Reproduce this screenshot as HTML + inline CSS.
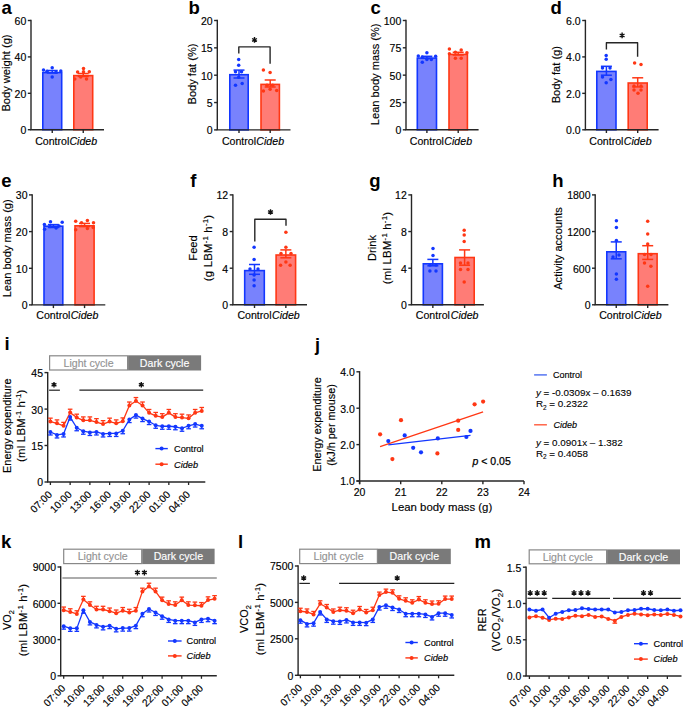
<!DOCTYPE html><html><head><meta charset="utf-8"><style>html,body{margin:0;padding:0;background:#fff;}svg{display:block;}</style></head><body><svg width="685" height="708" viewBox="0 0 685 708" font-family='"Liberation Sans", sans-serif'>
<rect width="685" height="708" fill="#fff"/>
<text x="1.5" y="13.5" font-size="18.5" text-anchor="start" font-weight="bold" font-style="normal" fill="#000" stroke="#000" stroke-width="0" >a</text>
<rect x="42.8" y="72.6" width="18.9" height="57.099999999999994" fill="#7882fd" stroke="#1337ff" stroke-width="1.6"/>
<line x1="52.25" y1="70.5" x2="52.25" y2="73" stroke="#1337ff" stroke-width="1.5"/>
<line x1="46.75" y1="70.5" x2="57.75" y2="70.5" stroke="#1337ff" stroke-width="1.5"/>
<line x1="46.75" y1="73" x2="57.75" y2="73" stroke="#1337ff" stroke-width="1.5"/>
<circle cx="43.5" cy="70" r="1.75" fill="#1337ff"/>
<circle cx="52.2" cy="67.8" r="1.75" fill="#1337ff"/>
<circle cx="52.2" cy="77" r="1.75" fill="#1337ff"/>
<circle cx="60.8" cy="71" r="1.75" fill="#1337ff"/>
<circle cx="56" cy="72.3" r="1.75" fill="#1337ff"/>
<circle cx="47" cy="71.3" r="1.75" fill="#1337ff"/>
<rect x="73.8" y="75.6" width="18.9" height="54.099999999999994" fill="#ff7c76" stroke="#ff3714" stroke-width="1.6"/>
<line x1="83.25" y1="73.5" x2="83.25" y2="76.5" stroke="#ff3714" stroke-width="1.5"/>
<line x1="77.75" y1="73.5" x2="88.75" y2="73.5" stroke="#ff3714" stroke-width="1.5"/>
<line x1="77.75" y1="76.5" x2="88.75" y2="76.5" stroke="#ff3714" stroke-width="1.5"/>
<circle cx="83.5" cy="68.4" r="1.75" fill="#ff3714"/>
<circle cx="77.6" cy="72.1" r="1.75" fill="#ff3714"/>
<circle cx="89.3" cy="71.8" r="1.75" fill="#ff3714"/>
<circle cx="83.5" cy="71.8" r="1.75" fill="#ff3714"/>
<circle cx="74.8" cy="79" r="1.75" fill="#ff3714"/>
<circle cx="80.7" cy="77" r="1.75" fill="#ff3714"/>
<circle cx="86.5" cy="79" r="1.75" fill="#ff3714"/>
<line x1="31" y1="19.8" x2="31" y2="129.7" stroke="#262626" stroke-width="1.4"/>
<line x1="27.8" y1="20.5" x2="31" y2="20.5" stroke="#262626" stroke-width="1.4"/>
<text x="26.3" y="24.9" font-size="10.5" text-anchor="end" font-weight="normal" font-style="normal" fill="#000" stroke="#000" stroke-width="0.15" >60</text>
<line x1="27.8" y1="56.9" x2="31" y2="56.9" stroke="#262626" stroke-width="1.4"/>
<text x="26.3" y="61.3" font-size="10.5" text-anchor="end" font-weight="normal" font-style="normal" fill="#000" stroke="#000" stroke-width="0.15" >40</text>
<line x1="27.8" y1="93.3" x2="31" y2="93.3" stroke="#262626" stroke-width="1.4"/>
<text x="26.3" y="97.7" font-size="10.5" text-anchor="end" font-weight="normal" font-style="normal" fill="#000" stroke="#000" stroke-width="0.15" >20</text>
<line x1="27.8" y1="129.7" x2="31" y2="129.7" stroke="#262626" stroke-width="1.4"/>
<text x="26.3" y="134.1" font-size="10.5" text-anchor="end" font-weight="normal" font-style="normal" fill="#000" stroke="#000" stroke-width="0.15" >0</text>
<line x1="30.3" y1="129.7" x2="104" y2="129.7" stroke="#262626" stroke-width="1.4"/>
<line x1="52.25" y1="129.7" x2="52.25" y2="132.89999999999998" stroke="#262626" stroke-width="1.4"/>
<line x1="83.25" y1="129.7" x2="83.25" y2="132.89999999999998" stroke="#262626" stroke-width="1.4"/>
<text x="52.25" y="144.6" font-size="10.6" text-anchor="middle" font-weight="normal" font-style="normal" fill="#000" stroke="#000" stroke-width="0.15" >Control</text>
<text x="83.25" y="144.6" font-size="10.6" text-anchor="middle" font-weight="normal" font-style="italic" fill="#000" stroke="#000" stroke-width="0.15" >Cideb</text>
<text transform="translate(9.6,73) rotate(-90)" font-size="11.1" text-anchor="middle" stroke="#000" stroke-width="0.15" >Body weight (g)</text>
<text x="188.5" y="13.5" font-size="18.5" text-anchor="start" font-weight="bold" font-style="normal" fill="#000" stroke="#000" stroke-width="0" >b</text>
<rect x="229.8" y="74.7" width="18.4" height="55.2" fill="#7882fd" stroke="#1337ff" stroke-width="1.6"/>
<line x1="239.0" y1="70.1" x2="239.0" y2="78" stroke="#1337ff" stroke-width="1.5"/>
<line x1="233.5" y1="70.1" x2="244.5" y2="70.1" stroke="#1337ff" stroke-width="1.5"/>
<line x1="233.5" y1="78" x2="244.5" y2="78" stroke="#1337ff" stroke-width="1.5"/>
<circle cx="238.7" cy="59.6" r="1.75" fill="#1337ff"/>
<circle cx="238.7" cy="65.2" r="1.75" fill="#1337ff"/>
<circle cx="235.5" cy="71.8" r="1.75" fill="#1337ff"/>
<circle cx="241.5" cy="71.8" r="1.75" fill="#1337ff"/>
<circle cx="238.7" cy="77.3" r="1.75" fill="#1337ff"/>
<circle cx="235.5" cy="85.2" r="1.75" fill="#1337ff"/>
<circle cx="242.2" cy="83.5" r="1.75" fill="#1337ff"/>
<rect x="261.0" y="84.39999999999999" width="18.4" height="45.500000000000014" fill="#ff7c76" stroke="#ff3714" stroke-width="1.6"/>
<line x1="270.2" y1="80" x2="270.2" y2="87" stroke="#ff3714" stroke-width="1.5"/>
<line x1="264.7" y1="80" x2="275.7" y2="80" stroke="#ff3714" stroke-width="1.5"/>
<line x1="264.7" y1="87" x2="275.7" y2="87" stroke="#ff3714" stroke-width="1.5"/>
<circle cx="263.4" cy="70.1" r="1.75" fill="#ff3714"/>
<circle cx="270.1" cy="72.5" r="1.75" fill="#ff3714"/>
<circle cx="263.4" cy="90.9" r="1.75" fill="#ff3714"/>
<circle cx="270.1" cy="89.2" r="1.75" fill="#ff3714"/>
<circle cx="276.7" cy="90.5" r="1.75" fill="#ff3714"/>
<circle cx="267" cy="85.2" r="1.75" fill="#ff3714"/>
<circle cx="272.7" cy="85.2" r="1.75" fill="#ff3714"/>
<line x1="217.3" y1="19.8" x2="217.3" y2="129.9" stroke="#262626" stroke-width="1.4"/>
<line x1="214.10000000000002" y1="20.5" x2="217.3" y2="20.5" stroke="#262626" stroke-width="1.4"/>
<text x="212.60000000000002" y="24.9" font-size="10.5" text-anchor="end" font-weight="normal" font-style="normal" fill="#000" stroke="#000" stroke-width="0.15" >20</text>
<line x1="214.10000000000002" y1="47.85" x2="217.3" y2="47.85" stroke="#262626" stroke-width="1.4"/>
<text x="212.60000000000002" y="52.25" font-size="10.5" text-anchor="end" font-weight="normal" font-style="normal" fill="#000" stroke="#000" stroke-width="0.15" >15</text>
<line x1="214.10000000000002" y1="75.2" x2="217.3" y2="75.2" stroke="#262626" stroke-width="1.4"/>
<text x="212.60000000000002" y="79.60000000000001" font-size="10.5" text-anchor="end" font-weight="normal" font-style="normal" fill="#000" stroke="#000" stroke-width="0.15" >10</text>
<line x1="214.10000000000002" y1="102.55" x2="217.3" y2="102.55" stroke="#262626" stroke-width="1.4"/>
<text x="212.60000000000002" y="106.95" font-size="10.5" text-anchor="end" font-weight="normal" font-style="normal" fill="#000" stroke="#000" stroke-width="0.15" >5</text>
<line x1="214.10000000000002" y1="129.9" x2="217.3" y2="129.9" stroke="#262626" stroke-width="1.4"/>
<text x="212.60000000000002" y="134.3" font-size="10.5" text-anchor="end" font-weight="normal" font-style="normal" fill="#000" stroke="#000" stroke-width="0.15" >0</text>
<line x1="216.60000000000002" y1="129.9" x2="290.5" y2="129.9" stroke="#262626" stroke-width="1.4"/>
<line x1="239.0" y1="129.9" x2="239.0" y2="133.1" stroke="#262626" stroke-width="1.4"/>
<line x1="270.2" y1="129.9" x2="270.2" y2="133.1" stroke="#262626" stroke-width="1.4"/>
<text x="239.0" y="144.6" font-size="10.6" text-anchor="middle" font-weight="normal" font-style="normal" fill="#000" stroke="#000" stroke-width="0.15" >Control</text>
<text x="270.2" y="144.6" font-size="10.6" text-anchor="middle" font-weight="normal" font-style="italic" fill="#000" stroke="#000" stroke-width="0.15" >Cideb</text>
<text transform="translate(195.5,74) rotate(-90)" font-size="11.1" text-anchor="middle" stroke="#000" stroke-width="0.15" >Body fat (%)</text>
<polyline points="238.80,53.50 238.80,46.90 270.10,46.90 270.10,63.70" fill="none" stroke="#262626" stroke-width="1.4" stroke-linejoin="round"/>
<path d="M254.50,37.10L254.50,42.70M252.08,38.50L256.92,41.30M256.92,38.50L252.08,41.30" stroke="#111" stroke-width="1.4" stroke-linecap="butt" fill="none"/>
<text x="370.5" y="13.5" font-size="18.5" text-anchor="start" font-weight="bold" font-style="normal" fill="#000" stroke="#000" stroke-width="0" >c</text>
<rect x="417.3" y="58.099999999999994" width="19.20000000000001" height="71.70000000000002" fill="#7882fd" stroke="#1337ff" stroke-width="1.6"/>
<line x1="426.9" y1="56.3" x2="426.9" y2="58.3" stroke="#1337ff" stroke-width="1.5"/>
<line x1="421.4" y1="56.3" x2="432.4" y2="56.3" stroke="#1337ff" stroke-width="1.5"/>
<line x1="421.4" y1="58.3" x2="432.4" y2="58.3" stroke="#1337ff" stroke-width="1.5"/>
<circle cx="418.3" cy="56.1" r="1.75" fill="#1337ff"/>
<circle cx="426.9" cy="52.8" r="1.75" fill="#1337ff"/>
<circle cx="422.3" cy="57.1" r="1.75" fill="#1337ff"/>
<circle cx="426.9" cy="59.5" r="1.75" fill="#1337ff"/>
<circle cx="431.3" cy="59.5" r="1.75" fill="#1337ff"/>
<circle cx="435.6" cy="56.3" r="1.75" fill="#1337ff"/>
<circle cx="422.3" cy="62.3" r="1.75" fill="#1337ff"/>
<rect x="449.0" y="54.4" width="18.4" height="75.40000000000002" fill="#ff7c76" stroke="#ff3714" stroke-width="1.6"/>
<line x1="458.2" y1="52.3" x2="458.2" y2="55" stroke="#ff3714" stroke-width="1.5"/>
<line x1="452.7" y1="52.3" x2="463.7" y2="52.3" stroke="#ff3714" stroke-width="1.5"/>
<line x1="452.7" y1="55" x2="463.7" y2="55" stroke="#ff3714" stroke-width="1.5"/>
<circle cx="449.4" cy="49" r="1.75" fill="#ff3714"/>
<circle cx="461.2" cy="50" r="1.75" fill="#ff3714"/>
<circle cx="455.4" cy="52.3" r="1.75" fill="#ff3714"/>
<circle cx="466.9" cy="52.8" r="1.75" fill="#ff3714"/>
<circle cx="455.4" cy="58.2" r="1.75" fill="#ff3714"/>
<circle cx="461.2" cy="58.2" r="1.75" fill="#ff3714"/>
<circle cx="449.4" cy="53.8" r="1.75" fill="#ff3714"/>
<line x1="406" y1="19.8" x2="406" y2="129.8" stroke="#262626" stroke-width="1.4"/>
<line x1="402.8" y1="20.5" x2="406" y2="20.5" stroke="#262626" stroke-width="1.4"/>
<text x="401.3" y="24.9" font-size="10.5" text-anchor="end" font-weight="normal" font-style="normal" fill="#000" stroke="#000" stroke-width="0.15" >100</text>
<line x1="402.8" y1="47.8" x2="406" y2="47.8" stroke="#262626" stroke-width="1.4"/>
<text x="401.3" y="52.199999999999996" font-size="10.5" text-anchor="end" font-weight="normal" font-style="normal" fill="#000" stroke="#000" stroke-width="0.15" >75</text>
<line x1="402.8" y1="75.15" x2="406" y2="75.15" stroke="#262626" stroke-width="1.4"/>
<text x="401.3" y="79.55000000000001" font-size="10.5" text-anchor="end" font-weight="normal" font-style="normal" fill="#000" stroke="#000" stroke-width="0.15" >50</text>
<line x1="402.8" y1="102.5" x2="406" y2="102.5" stroke="#262626" stroke-width="1.4"/>
<text x="401.3" y="106.9" font-size="10.5" text-anchor="end" font-weight="normal" font-style="normal" fill="#000" stroke="#000" stroke-width="0.15" >25</text>
<line x1="402.8" y1="129.8" x2="406" y2="129.8" stroke="#262626" stroke-width="1.4"/>
<text x="401.3" y="134.20000000000002" font-size="10.5" text-anchor="end" font-weight="normal" font-style="normal" fill="#000" stroke="#000" stroke-width="0.15" >0</text>
<line x1="405.3" y1="129.8" x2="478.6" y2="129.8" stroke="#262626" stroke-width="1.4"/>
<line x1="426.9" y1="129.8" x2="426.9" y2="133.0" stroke="#262626" stroke-width="1.4"/>
<line x1="458.2" y1="129.8" x2="458.2" y2="133.0" stroke="#262626" stroke-width="1.4"/>
<text x="426.9" y="144.6" font-size="10.6" text-anchor="middle" font-weight="normal" font-style="normal" fill="#000" stroke="#000" stroke-width="0.15" >Control</text>
<text x="458.2" y="144.6" font-size="10.6" text-anchor="middle" font-weight="normal" font-style="italic" fill="#000" stroke="#000" stroke-width="0.15" >Cideb</text>
<text transform="translate(378.5,74.3) rotate(-90)" font-size="11.1" text-anchor="middle" stroke="#000" stroke-width="0.15" >Lean body mass (%)</text>
<text x="550.5" y="13.5" font-size="18.5" text-anchor="start" font-weight="bold" font-style="normal" fill="#000" stroke="#000" stroke-width="0" >d</text>
<rect x="596.8" y="71.39999999999999" width="19.199999999999953" height="58.40000000000002" fill="#7882fd" stroke="#1337ff" stroke-width="1.6"/>
<line x1="606.4" y1="66.3" x2="606.4" y2="75.2" stroke="#1337ff" stroke-width="1.5"/>
<line x1="600.9" y1="66.3" x2="611.9" y2="66.3" stroke="#1337ff" stroke-width="1.5"/>
<line x1="600.9" y1="75.2" x2="611.9" y2="75.2" stroke="#1337ff" stroke-width="1.5"/>
<circle cx="606.2" cy="55.5" r="1.75" fill="#1337ff"/>
<circle cx="606.2" cy="59.3" r="1.75" fill="#1337ff"/>
<circle cx="602.5" cy="68" r="1.75" fill="#1337ff"/>
<circle cx="610" cy="68" r="1.75" fill="#1337ff"/>
<circle cx="602.5" cy="77" r="1.75" fill="#1337ff"/>
<circle cx="610.9" cy="79.5" r="1.75" fill="#1337ff"/>
<circle cx="606.2" cy="82.7" r="1.75" fill="#1337ff"/>
<rect x="628.1999999999999" y="83.0" width="19.00000000000002" height="46.80000000000001" fill="#ff7c76" stroke="#ff3714" stroke-width="1.6"/>
<line x1="637.7" y1="77.8" x2="637.7" y2="86.9" stroke="#ff3714" stroke-width="1.5"/>
<line x1="632.2" y1="77.8" x2="643.2" y2="77.8" stroke="#ff3714" stroke-width="1.5"/>
<line x1="632.2" y1="86.9" x2="643.2" y2="86.9" stroke="#ff3714" stroke-width="1.5"/>
<circle cx="634.6" cy="63" r="1.75" fill="#ff3714"/>
<circle cx="641" cy="64.6" r="1.75" fill="#ff3714"/>
<circle cx="634" cy="86" r="1.75" fill="#ff3714"/>
<circle cx="641" cy="86" r="1.75" fill="#ff3714"/>
<circle cx="634" cy="90" r="1.75" fill="#ff3714"/>
<circle cx="641" cy="90" r="1.75" fill="#ff3714"/>
<circle cx="638" cy="93.3" r="1.75" fill="#ff3714"/>
<line x1="585.4" y1="19.8" x2="585.4" y2="129.8" stroke="#262626" stroke-width="1.4"/>
<line x1="582.1999999999999" y1="20.5" x2="585.4" y2="20.5" stroke="#262626" stroke-width="1.4"/>
<text x="580.6999999999999" y="24.9" font-size="10.5" text-anchor="end" font-weight="normal" font-style="normal" fill="#000" stroke="#000" stroke-width="0.15" >6.0</text>
<line x1="582.1999999999999" y1="56.9" x2="585.4" y2="56.9" stroke="#262626" stroke-width="1.4"/>
<text x="580.6999999999999" y="61.3" font-size="10.5" text-anchor="end" font-weight="normal" font-style="normal" fill="#000" stroke="#000" stroke-width="0.15" >4.0</text>
<line x1="582.1999999999999" y1="93.35" x2="585.4" y2="93.35" stroke="#262626" stroke-width="1.4"/>
<text x="580.6999999999999" y="97.75" font-size="10.5" text-anchor="end" font-weight="normal" font-style="normal" fill="#000" stroke="#000" stroke-width="0.15" >2.0</text>
<line x1="582.1999999999999" y1="129.8" x2="585.4" y2="129.8" stroke="#262626" stroke-width="1.4"/>
<text x="580.6999999999999" y="134.20000000000002" font-size="10.5" text-anchor="end" font-weight="normal" font-style="normal" fill="#000" stroke="#000" stroke-width="0.15" >0.0</text>
<line x1="584.6999999999999" y1="129.8" x2="658.6" y2="129.8" stroke="#262626" stroke-width="1.4"/>
<line x1="606.4" y1="129.8" x2="606.4" y2="133.0" stroke="#262626" stroke-width="1.4"/>
<line x1="637.7" y1="129.8" x2="637.7" y2="133.0" stroke="#262626" stroke-width="1.4"/>
<text x="606.4" y="144.6" font-size="10.6" text-anchor="middle" font-weight="normal" font-style="normal" fill="#000" stroke="#000" stroke-width="0.15" >Control</text>
<text x="637.7" y="144.6" font-size="10.6" text-anchor="middle" font-weight="normal" font-style="italic" fill="#000" stroke="#000" stroke-width="0.15" >Cideb</text>
<text transform="translate(559.8,74.7) rotate(-90)" font-size="11.1" text-anchor="middle" stroke="#000" stroke-width="0.15" >Body fat (g)</text>
<polyline points="606.40,49.50 606.40,42.70 637.60,42.70 637.60,56.70" fill="none" stroke="#262626" stroke-width="1.4" stroke-linejoin="round"/>
<path d="M622.10,32.60L622.10,38.20M619.68,34.00L624.52,36.80M624.52,34.00L619.68,36.80" stroke="#111" stroke-width="1.4" stroke-linecap="butt" fill="none"/>
<text x="1.3" y="186.9" font-size="18.5" text-anchor="start" font-weight="bold" font-style="normal" fill="#000" stroke="#000" stroke-width="0" >e</text>
<rect x="44.0" y="226.20000000000002" width="18.799999999999997" height="78.69999999999997" fill="#7882fd" stroke="#1337ff" stroke-width="1.6"/>
<line x1="53.400000000000006" y1="224.6" x2="53.400000000000006" y2="227.5" stroke="#1337ff" stroke-width="1.5"/>
<line x1="47.900000000000006" y1="224.6" x2="58.900000000000006" y2="224.6" stroke="#1337ff" stroke-width="1.5"/>
<line x1="47.900000000000006" y1="227.5" x2="58.900000000000006" y2="227.5" stroke="#1337ff" stroke-width="1.5"/>
<circle cx="44.4" cy="224.4" r="1.75" fill="#1337ff"/>
<circle cx="50.5" cy="221.8" r="1.75" fill="#1337ff"/>
<circle cx="62.2" cy="222.2" r="1.75" fill="#1337ff"/>
<circle cx="44.6" cy="229.3" r="1.75" fill="#1337ff"/>
<circle cx="50" cy="226.4" r="1.75" fill="#1337ff"/>
<circle cx="56.1" cy="227.9" r="1.75" fill="#1337ff"/>
<circle cx="59" cy="226" r="1.75" fill="#1337ff"/>
<rect x="75.0" y="225.8" width="19.1" height="79.09999999999998" fill="#ff7c76" stroke="#ff3714" stroke-width="1.6"/>
<line x1="84.55000000000001" y1="223.4" x2="84.55000000000001" y2="226.6" stroke="#ff3714" stroke-width="1.5"/>
<line x1="79.05000000000001" y1="223.4" x2="90.05000000000001" y2="223.4" stroke="#ff3714" stroke-width="1.5"/>
<line x1="79.05000000000001" y1="226.6" x2="90.05000000000001" y2="226.6" stroke="#ff3714" stroke-width="1.5"/>
<circle cx="75.7" cy="221.3" r="1.75" fill="#ff3714"/>
<circle cx="81.5" cy="222.7" r="1.75" fill="#ff3714"/>
<circle cx="87.4" cy="220.4" r="1.75" fill="#ff3714"/>
<circle cx="93.5" cy="222.7" r="1.75" fill="#ff3714"/>
<circle cx="75.7" cy="229.7" r="1.75" fill="#ff3714"/>
<circle cx="87.4" cy="228.6" r="1.75" fill="#ff3714"/>
<circle cx="93.2" cy="227.4" r="1.75" fill="#ff3714"/>
<line x1="32.2" y1="194.20000000000002" x2="32.2" y2="304.9" stroke="#262626" stroke-width="1.4"/>
<line x1="29.000000000000004" y1="194.9" x2="32.2" y2="194.9" stroke="#262626" stroke-width="1.4"/>
<text x="27.500000000000004" y="199.3" font-size="10.5" text-anchor="end" font-weight="normal" font-style="normal" fill="#000" stroke="#000" stroke-width="0.15" >30</text>
<line x1="29.000000000000004" y1="231.6" x2="32.2" y2="231.6" stroke="#262626" stroke-width="1.4"/>
<text x="27.500000000000004" y="236.0" font-size="10.5" text-anchor="end" font-weight="normal" font-style="normal" fill="#000" stroke="#000" stroke-width="0.15" >20</text>
<line x1="29.000000000000004" y1="268.3" x2="32.2" y2="268.3" stroke="#262626" stroke-width="1.4"/>
<text x="27.500000000000004" y="272.7" font-size="10.5" text-anchor="end" font-weight="normal" font-style="normal" fill="#000" stroke="#000" stroke-width="0.15" >10</text>
<line x1="29.000000000000004" y1="304.9" x2="32.2" y2="304.9" stroke="#262626" stroke-width="1.4"/>
<text x="27.500000000000004" y="309.29999999999995" font-size="10.5" text-anchor="end" font-weight="normal" font-style="normal" fill="#000" stroke="#000" stroke-width="0.15" >0</text>
<line x1="31.500000000000004" y1="304.9" x2="105.3" y2="304.9" stroke="#262626" stroke-width="1.4"/>
<line x1="53.400000000000006" y1="304.9" x2="53.400000000000006" y2="308.09999999999997" stroke="#262626" stroke-width="1.4"/>
<line x1="84.55000000000001" y1="304.9" x2="84.55000000000001" y2="308.09999999999997" stroke="#262626" stroke-width="1.4"/>
<text x="53.400000000000006" y="319.3" font-size="10.6" text-anchor="middle" font-weight="normal" font-style="normal" fill="#000" stroke="#000" stroke-width="0.15" >Control</text>
<text x="84.55000000000001" y="319.3" font-size="10.6" text-anchor="middle" font-weight="normal" font-style="italic" fill="#000" stroke="#000" stroke-width="0.15" >Cideb</text>
<text transform="translate(10.8,248.3) rotate(-90)" font-size="11.1" text-anchor="middle" stroke="#000" stroke-width="0.15" >Lean body mass (g)</text>
<text x="190.2" y="186.6" font-size="18.5" text-anchor="start" font-weight="bold" font-style="normal" fill="#000" stroke="#000" stroke-width="0" >f</text>
<rect x="244.70000000000002" y="270.6" width="19.600000000000016" height="34.2" fill="#7882fd" stroke="#1337ff" stroke-width="1.6"/>
<line x1="254.5" y1="264.5" x2="254.5" y2="274.3" stroke="#1337ff" stroke-width="1.5"/>
<line x1="249.0" y1="264.5" x2="260.0" y2="264.5" stroke="#1337ff" stroke-width="1.5"/>
<line x1="249.0" y1="274.3" x2="260.0" y2="274.3" stroke="#1337ff" stroke-width="1.5"/>
<circle cx="254.1" cy="247.2" r="1.75" fill="#1337ff"/>
<circle cx="254.1" cy="259.4" r="1.75" fill="#1337ff"/>
<circle cx="250" cy="269" r="1.75" fill="#1337ff"/>
<circle cx="258" cy="269" r="1.75" fill="#1337ff"/>
<circle cx="254.1" cy="275" r="1.75" fill="#1337ff"/>
<circle cx="254.1" cy="280" r="1.75" fill="#1337ff"/>
<circle cx="254.1" cy="285.7" r="1.75" fill="#1337ff"/>
<rect x="276.1" y="255.0" width="19.499999999999964" height="49.800000000000026" fill="#ff7c76" stroke="#ff3714" stroke-width="1.6"/>
<line x1="285.85" y1="249.9" x2="285.85" y2="257.8" stroke="#ff3714" stroke-width="1.5"/>
<line x1="280.35" y1="249.9" x2="291.35" y2="249.9" stroke="#ff3714" stroke-width="1.5"/>
<line x1="280.35" y1="257.8" x2="291.35" y2="257.8" stroke="#ff3714" stroke-width="1.5"/>
<circle cx="285.9" cy="232.3" r="1.75" fill="#ff3714"/>
<circle cx="285.9" cy="247.2" r="1.75" fill="#ff3714"/>
<circle cx="281" cy="253.5" r="1.75" fill="#ff3714"/>
<circle cx="291" cy="253.5" r="1.75" fill="#ff3714"/>
<circle cx="280.6" cy="265.2" r="1.75" fill="#ff3714"/>
<circle cx="290.1" cy="265.2" r="1.75" fill="#ff3714"/>
<circle cx="285.9" cy="262" r="1.75" fill="#ff3714"/>
<line x1="232.9" y1="194.20000000000002" x2="232.9" y2="304.8" stroke="#262626" stroke-width="1.4"/>
<line x1="229.70000000000002" y1="194.9" x2="232.9" y2="194.9" stroke="#262626" stroke-width="1.4"/>
<text x="228.20000000000002" y="199.3" font-size="10.5" text-anchor="end" font-weight="normal" font-style="normal" fill="#000" stroke="#000" stroke-width="0.15" >12</text>
<line x1="229.70000000000002" y1="231.55" x2="232.9" y2="231.55" stroke="#262626" stroke-width="1.4"/>
<text x="228.20000000000002" y="235.95000000000002" font-size="10.5" text-anchor="end" font-weight="normal" font-style="normal" fill="#000" stroke="#000" stroke-width="0.15" >8</text>
<line x1="229.70000000000002" y1="268.2" x2="232.9" y2="268.2" stroke="#262626" stroke-width="1.4"/>
<text x="228.20000000000002" y="272.59999999999997" font-size="10.5" text-anchor="end" font-weight="normal" font-style="normal" fill="#000" stroke="#000" stroke-width="0.15" >4</text>
<line x1="229.70000000000002" y1="304.8" x2="232.9" y2="304.8" stroke="#262626" stroke-width="1.4"/>
<text x="228.20000000000002" y="309.2" font-size="10.5" text-anchor="end" font-weight="normal" font-style="normal" fill="#000" stroke="#000" stroke-width="0.15" >0</text>
<line x1="232.20000000000002" y1="304.8" x2="307" y2="304.8" stroke="#262626" stroke-width="1.4"/>
<line x1="254.5" y1="304.8" x2="254.5" y2="308.0" stroke="#262626" stroke-width="1.4"/>
<line x1="285.85" y1="304.8" x2="285.85" y2="308.0" stroke="#262626" stroke-width="1.4"/>
<text x="254.5" y="319.3" font-size="10.6" text-anchor="middle" font-weight="normal" font-style="normal" fill="#000" stroke="#000" stroke-width="0.15" >Control</text>
<text x="285.85" y="319.3" font-size="10.6" text-anchor="middle" font-weight="normal" font-style="italic" fill="#000" stroke="#000" stroke-width="0.15" >Cideb</text>
<text transform="translate(197.2,248) rotate(-90)" font-size="11.1" text-anchor="middle" stroke="#000" stroke-width="0.15" >Feed</text>
<text transform="translate(211.5,248) rotate(-90)" font-size="11.1" text-anchor="middle" stroke="#000" stroke-width="0.15" ><tspan font-size="11.4" letter-spacing="0.2">(g LBM<tspan dy="-3.8" font-size="7.8">-1</tspan><tspan dy="3.8"> h</tspan><tspan dy="-3.8" font-size="7.8">-1</tspan><tspan dy="3.8">)</tspan></tspan></text>
<polyline points="254.80,241.40 254.80,219.30 286.00,219.30 286.00,225.70" fill="none" stroke="#262626" stroke-width="1.4" stroke-linejoin="round"/>
<path d="M270.50,209.20L270.50,214.80M268.08,210.60L272.92,213.40M272.92,210.60L268.08,213.40" stroke="#111" stroke-width="1.4" stroke-linecap="butt" fill="none"/>
<text x="369.3" y="186.6" font-size="18.5" text-anchor="start" font-weight="bold" font-style="normal" fill="#000" stroke="#000" stroke-width="0" >g</text>
<rect x="423.3" y="263.8" width="19.099999999999987" height="41.000000000000014" fill="#7882fd" stroke="#1337ff" stroke-width="1.6"/>
<line x1="432.85" y1="259.4" x2="432.85" y2="265.8" stroke="#1337ff" stroke-width="1.5"/>
<line x1="427.35" y1="259.4" x2="438.35" y2="259.4" stroke="#1337ff" stroke-width="1.5"/>
<line x1="427.35" y1="265.8" x2="438.35" y2="265.8" stroke="#1337ff" stroke-width="1.5"/>
<circle cx="433" cy="248.6" r="1.75" fill="#1337ff"/>
<circle cx="433" cy="255.6" r="1.75" fill="#1337ff"/>
<circle cx="430" cy="265" r="1.75" fill="#1337ff"/>
<circle cx="436" cy="265" r="1.75" fill="#1337ff"/>
<circle cx="429.9" cy="271" r="1.75" fill="#1337ff"/>
<circle cx="436" cy="271" r="1.75" fill="#1337ff"/>
<rect x="455.0" y="257.5" width="19.20000000000001" height="47.300000000000026" fill="#ff7c76" stroke="#ff3714" stroke-width="1.6"/>
<line x1="464.6" y1="249.9" x2="464.6" y2="265.2" stroke="#ff3714" stroke-width="1.5"/>
<line x1="459.1" y1="249.9" x2="470.1" y2="249.9" stroke="#ff3714" stroke-width="1.5"/>
<line x1="459.1" y1="265.2" x2="470.1" y2="265.2" stroke="#ff3714" stroke-width="1.5"/>
<circle cx="464.2" cy="230.2" r="1.75" fill="#ff3714"/>
<circle cx="464.2" cy="235.1" r="1.75" fill="#ff3714"/>
<circle cx="464.2" cy="241.4" r="1.75" fill="#ff3714"/>
<circle cx="460.5" cy="263" r="1.75" fill="#ff3714"/>
<circle cx="468" cy="263" r="1.75" fill="#ff3714"/>
<circle cx="460.5" cy="269.4" r="1.75" fill="#ff3714"/>
<circle cx="468" cy="269.4" r="1.75" fill="#ff3714"/>
<circle cx="464.2" cy="282.1" r="1.75" fill="#ff3714"/>
<line x1="411.5" y1="194.20000000000002" x2="411.5" y2="304.8" stroke="#262626" stroke-width="1.4"/>
<line x1="408.3" y1="194.9" x2="411.5" y2="194.9" stroke="#262626" stroke-width="1.4"/>
<text x="406.8" y="199.3" font-size="10.5" text-anchor="end" font-weight="normal" font-style="normal" fill="#000" stroke="#000" stroke-width="0.15" >12</text>
<line x1="408.3" y1="231.55" x2="411.5" y2="231.55" stroke="#262626" stroke-width="1.4"/>
<text x="406.8" y="235.95000000000002" font-size="10.5" text-anchor="end" font-weight="normal" font-style="normal" fill="#000" stroke="#000" stroke-width="0.15" >8</text>
<line x1="408.3" y1="268.2" x2="411.5" y2="268.2" stroke="#262626" stroke-width="1.4"/>
<text x="406.8" y="272.59999999999997" font-size="10.5" text-anchor="end" font-weight="normal" font-style="normal" fill="#000" stroke="#000" stroke-width="0.15" >4</text>
<line x1="408.3" y1="304.8" x2="411.5" y2="304.8" stroke="#262626" stroke-width="1.4"/>
<text x="406.8" y="309.2" font-size="10.5" text-anchor="end" font-weight="normal" font-style="normal" fill="#000" stroke="#000" stroke-width="0.15" >0</text>
<line x1="410.8" y1="304.8" x2="483.9" y2="304.8" stroke="#262626" stroke-width="1.4"/>
<line x1="432.85" y1="304.8" x2="432.85" y2="308.0" stroke="#262626" stroke-width="1.4"/>
<line x1="464.6" y1="304.8" x2="464.6" y2="308.0" stroke="#262626" stroke-width="1.4"/>
<text x="432.85" y="319.3" font-size="10.6" text-anchor="middle" font-weight="normal" font-style="normal" fill="#000" stroke="#000" stroke-width="0.15" >Control</text>
<text x="464.6" y="319.3" font-size="10.6" text-anchor="middle" font-weight="normal" font-style="italic" fill="#000" stroke="#000" stroke-width="0.15" >Cideb</text>
<text transform="translate(376.3,248) rotate(-90)" font-size="11.1" text-anchor="middle" stroke="#000" stroke-width="0.15" >Drink</text>
<text transform="translate(390.5,248) rotate(-90)" font-size="11.1" text-anchor="middle" stroke="#000" stroke-width="0.15" ><tspan font-size="11.4" letter-spacing="0.2">(ml LBM<tspan dy="-3.8" font-size="7.8">-1</tspan><tspan dy="3.8"> h</tspan><tspan dy="-3.8" font-size="7.8">-1</tspan><tspan dy="3.8">)</tspan></tspan></text>
<text x="552.2" y="186.6" font-size="18.5" text-anchor="start" font-weight="bold" font-style="normal" fill="#000" stroke="#000" stroke-width="0" >h</text>
<rect x="606.8" y="251.8" width="18.9" height="53.000000000000014" fill="#7882fd" stroke="#1337ff" stroke-width="1.6"/>
<line x1="616.25" y1="241.9" x2="616.25" y2="258.8" stroke="#1337ff" stroke-width="1.5"/>
<line x1="610.75" y1="241.9" x2="621.75" y2="241.9" stroke="#1337ff" stroke-width="1.5"/>
<line x1="610.75" y1="258.8" x2="621.75" y2="258.8" stroke="#1337ff" stroke-width="1.5"/>
<circle cx="616.4" cy="220.7" r="1.75" fill="#1337ff"/>
<circle cx="616.4" cy="227.5" r="1.75" fill="#1337ff"/>
<circle cx="616.4" cy="240.4" r="1.75" fill="#1337ff"/>
<circle cx="613" cy="257" r="1.75" fill="#1337ff"/>
<circle cx="619" cy="255" r="1.75" fill="#1337ff"/>
<circle cx="616.4" cy="274" r="1.75" fill="#1337ff"/>
<circle cx="616.4" cy="279.3" r="1.75" fill="#1337ff"/>
<rect x="638.3" y="253.70000000000002" width="18.799999999999976" height="51.10000000000001" fill="#ff7c76" stroke="#ff3714" stroke-width="1.6"/>
<line x1="647.7" y1="245.7" x2="647.7" y2="259.4" stroke="#ff3714" stroke-width="1.5"/>
<line x1="642.2" y1="245.7" x2="653.2" y2="245.7" stroke="#ff3714" stroke-width="1.5"/>
<line x1="642.2" y1="259.4" x2="653.2" y2="259.4" stroke="#ff3714" stroke-width="1.5"/>
<circle cx="647.7" cy="221.3" r="1.75" fill="#ff3714"/>
<circle cx="647.7" cy="234" r="1.75" fill="#ff3714"/>
<circle cx="647.7" cy="244" r="1.75" fill="#ff3714"/>
<circle cx="644.5" cy="254.5" r="1.75" fill="#ff3714"/>
<circle cx="651" cy="254.5" r="1.75" fill="#ff3714"/>
<circle cx="644.5" cy="263" r="1.75" fill="#ff3714"/>
<circle cx="650.9" cy="266.2" r="1.75" fill="#ff3714"/>
<circle cx="647.7" cy="286.3" r="1.75" fill="#ff3714"/>
<line x1="595.2" y1="194.20000000000002" x2="595.2" y2="304.8" stroke="#262626" stroke-width="1.4"/>
<line x1="592.0" y1="194.9" x2="595.2" y2="194.9" stroke="#262626" stroke-width="1.4"/>
<text x="590.5" y="199.3" font-size="10.5" text-anchor="end" font-weight="normal" font-style="normal" fill="#000" stroke="#000" stroke-width="0.15" >1800</text>
<line x1="592.0" y1="231.55" x2="595.2" y2="231.55" stroke="#262626" stroke-width="1.4"/>
<text x="590.5" y="235.95000000000002" font-size="10.5" text-anchor="end" font-weight="normal" font-style="normal" fill="#000" stroke="#000" stroke-width="0.15" >1200</text>
<line x1="592.0" y1="268.2" x2="595.2" y2="268.2" stroke="#262626" stroke-width="1.4"/>
<text x="590.5" y="272.59999999999997" font-size="10.5" text-anchor="end" font-weight="normal" font-style="normal" fill="#000" stroke="#000" stroke-width="0.15" >600</text>
<line x1="592.0" y1="304.8" x2="595.2" y2="304.8" stroke="#262626" stroke-width="1.4"/>
<text x="590.5" y="309.2" font-size="10.5" text-anchor="end" font-weight="normal" font-style="normal" fill="#000" stroke="#000" stroke-width="0.15" >0</text>
<line x1="594.5" y1="304.8" x2="668.4" y2="304.8" stroke="#262626" stroke-width="1.4"/>
<line x1="616.25" y1="304.8" x2="616.25" y2="308.0" stroke="#262626" stroke-width="1.4"/>
<line x1="647.7" y1="304.8" x2="647.7" y2="308.0" stroke="#262626" stroke-width="1.4"/>
<text x="616.25" y="319.3" font-size="10.6" text-anchor="middle" font-weight="normal" font-style="normal" fill="#000" stroke="#000" stroke-width="0.15" >Control</text>
<text x="647.7" y="319.3" font-size="10.6" text-anchor="middle" font-weight="normal" font-style="italic" fill="#000" stroke="#000" stroke-width="0.15" >Cideb</text>
<text transform="translate(562.2,248.5) rotate(-90)" font-size="11.1" text-anchor="middle" stroke="#000" stroke-width="0.15" >Activity accounts</text>
<text x="4.5" y="350" font-size="18.5" text-anchor="start" font-weight="bold" font-style="normal" fill="#000" stroke="#000" stroke-width="0" >i</text>
<rect x="49.6" y="355.8" width="78.0" height="14.199999999999989" fill="#fff" stroke="#888888" stroke-width="1.2"/>
<rect x="128.1" y="355.3" width="73.0" height="15.199999999999989" fill="#7a7a7a"/>
<text x="88.6" y="366.79999999999995" font-size="10.6" text-anchor="middle" font-weight="normal" font-style="normal" fill="#939393" stroke="#939393" stroke-width="0.15" >Light cycle</text>
<text x="164.6" y="366.79999999999995" font-size="10.6" text-anchor="middle" font-weight="normal" font-style="normal" fill="#fff" stroke="#fff" stroke-width="0.15" >Dark cycle</text>
<line x1="47.7" y1="371.90000000000003" x2="47.7" y2="482" stroke="#262626" stroke-width="1.4"/>
<line x1="44.5" y1="372.6" x2="47.7" y2="372.6" stroke="#262626" stroke-width="1.4"/>
<text x="43.0" y="377.0" font-size="10.5" text-anchor="end" font-weight="normal" font-style="normal" fill="#000" stroke="#000" stroke-width="0.15" >45</text>
<line x1="44.5" y1="409.1" x2="47.7" y2="409.1" stroke="#262626" stroke-width="1.4"/>
<text x="43.0" y="413.5" font-size="10.5" text-anchor="end" font-weight="normal" font-style="normal" fill="#000" stroke="#000" stroke-width="0.15" >30</text>
<line x1="44.5" y1="445.5" x2="47.7" y2="445.5" stroke="#262626" stroke-width="1.4"/>
<text x="43.0" y="449.9" font-size="10.5" text-anchor="end" font-weight="normal" font-style="normal" fill="#000" stroke="#000" stroke-width="0.15" >15</text>
<line x1="44.5" y1="482" x2="47.7" y2="482" stroke="#262626" stroke-width="1.4"/>
<text x="43.0" y="486.4" font-size="10.5" text-anchor="end" font-weight="normal" font-style="normal" fill="#000" stroke="#000" stroke-width="0.15" >0</text>
<line x1="47.0" y1="482" x2="205.3" y2="482" stroke="#262626" stroke-width="1.4"/>
<line x1="50.4" y1="482" x2="50.4" y2="485" stroke="#262626" stroke-width="1.3"/>
<text transform="translate(52.699999999999996,495.2) rotate(-45)" font-size="10.3" text-anchor="end" stroke="#000" stroke-width="0.15">07:00</text>
<line x1="70.14" y1="482" x2="70.14" y2="485" stroke="#262626" stroke-width="1.3"/>
<text transform="translate(72.44,495.2) rotate(-45)" font-size="10.3" text-anchor="end" stroke="#000" stroke-width="0.15">10:00</text>
<line x1="89.88" y1="482" x2="89.88" y2="485" stroke="#262626" stroke-width="1.3"/>
<text transform="translate(92.17999999999999,495.2) rotate(-45)" font-size="10.3" text-anchor="end" stroke="#000" stroke-width="0.15">13:00</text>
<line x1="109.62" y1="482" x2="109.62" y2="485" stroke="#262626" stroke-width="1.3"/>
<text transform="translate(111.92,495.2) rotate(-45)" font-size="10.3" text-anchor="end" stroke="#000" stroke-width="0.15">16:00</text>
<line x1="129.36" y1="482" x2="129.36" y2="485" stroke="#262626" stroke-width="1.3"/>
<text transform="translate(131.66000000000003,495.2) rotate(-45)" font-size="10.3" text-anchor="end" stroke="#000" stroke-width="0.15">19:00</text>
<line x1="149.10000000000002" y1="482" x2="149.10000000000002" y2="485" stroke="#262626" stroke-width="1.3"/>
<text transform="translate(151.40000000000003,495.2) rotate(-45)" font-size="10.3" text-anchor="end" stroke="#000" stroke-width="0.15">22:00</text>
<line x1="168.84" y1="482" x2="168.84" y2="485" stroke="#262626" stroke-width="1.3"/>
<text transform="translate(171.14000000000001,495.2) rotate(-45)" font-size="10.3" text-anchor="end" stroke="#000" stroke-width="0.15">01:00</text>
<line x1="188.58" y1="482" x2="188.58" y2="485" stroke="#262626" stroke-width="1.3"/>
<text transform="translate(190.88000000000002,495.2) rotate(-45)" font-size="10.3" text-anchor="end" stroke="#000" stroke-width="0.15">04:00</text>
<polyline points="50.40,421.55 56.98,423.29 63.56,425.77 70.14,412.62 76.72,417.58 83.30,420.31 89.88,420.31 96.46,422.05 103.04,424.04 109.62,421.55 116.20,423.29 122.78,421.31 129.36,405.42 135.94,400.95 142.52,405.42 149.10,412.87 155.68,415.85 162.26,417.09 168.84,412.87 175.42,417.09 182.00,417.58 188.58,418.33 195.16,412.87 201.74,410.88" fill="none" stroke="#ff3714" stroke-width="1.3" stroke-linejoin="round"/>
<line x1="50.4" y1="421.5537354182179" x2="50.4" y2="418.15373541821793" stroke="#ff3714" stroke-width="1.2"/>
<line x1="48.1" y1="418.15373541821793" x2="52.699999999999996" y2="418.15373541821793" stroke="#ff3714" stroke-width="1.3"/>
<circle cx="50.4" cy="421.5537354182179" r="2.0" fill="#ff3714"/>
<line x1="56.98" y1="423.2911392405063" x2="56.98" y2="419.89113924050633" stroke="#ff3714" stroke-width="1.2"/>
<line x1="54.68" y1="419.89113924050633" x2="59.279999999999994" y2="419.89113924050633" stroke="#ff3714" stroke-width="1.3"/>
<circle cx="56.98" cy="423.2911392405063" r="2.0" fill="#ff3714"/>
<line x1="63.56" y1="425.77314470091835" x2="63.56" y2="422.3731447009184" stroke="#ff3714" stroke-width="1.2"/>
<line x1="61.260000000000005" y1="422.3731447009184" x2="65.86" y2="422.3731447009184" stroke="#ff3714" stroke-width="1.3"/>
<circle cx="63.56" cy="425.77314470091835" r="2.0" fill="#ff3714"/>
<line x1="70.14" y1="412.6185157607347" x2="70.14" y2="409.2185157607347" stroke="#ff3714" stroke-width="1.2"/>
<line x1="67.84" y1="409.2185157607347" x2="72.44" y2="409.2185157607347" stroke="#ff3714" stroke-width="1.3"/>
<circle cx="70.14" cy="412.6185157607347" r="2.0" fill="#ff3714"/>
<line x1="76.72" y1="417.5825266815587" x2="76.72" y2="414.1825266815587" stroke="#ff3714" stroke-width="1.2"/>
<line x1="74.42" y1="414.1825266815587" x2="79.02" y2="414.1825266815587" stroke="#ff3714" stroke-width="1.3"/>
<circle cx="76.72" cy="417.5825266815587" r="2.0" fill="#ff3714"/>
<line x1="83.3" y1="420.3127326880119" x2="83.3" y2="416.91273268801194" stroke="#ff3714" stroke-width="1.2"/>
<line x1="81.0" y1="416.91273268801194" x2="85.6" y2="416.91273268801194" stroke="#ff3714" stroke-width="1.3"/>
<circle cx="83.3" cy="420.3127326880119" r="2.0" fill="#ff3714"/>
<line x1="89.88" y1="420.3127326880119" x2="89.88" y2="416.91273268801194" stroke="#ff3714" stroke-width="1.2"/>
<line x1="87.58" y1="416.91273268801194" x2="92.17999999999999" y2="416.91273268801194" stroke="#ff3714" stroke-width="1.3"/>
<circle cx="89.88" cy="420.3127326880119" r="2.0" fill="#ff3714"/>
<line x1="96.46000000000001" y1="422.0501365103003" x2="96.46000000000001" y2="418.65013651030034" stroke="#ff3714" stroke-width="1.2"/>
<line x1="94.16000000000001" y1="418.65013651030034" x2="98.76" y2="418.65013651030034" stroke="#ff3714" stroke-width="1.3"/>
<circle cx="96.46000000000001" cy="422.0501365103003" r="2.0" fill="#ff3714"/>
<line x1="103.03999999999999" y1="424.03574087862995" x2="103.03999999999999" y2="420.63574087863" stroke="#ff3714" stroke-width="1.2"/>
<line x1="100.74" y1="420.63574087863" x2="105.33999999999999" y2="420.63574087863" stroke="#ff3714" stroke-width="1.3"/>
<circle cx="103.03999999999999" cy="424.03574087862995" r="2.0" fill="#ff3714"/>
<line x1="109.62" y1="421.5537354182179" x2="109.62" y2="418.15373541821793" stroke="#ff3714" stroke-width="1.2"/>
<line x1="107.32000000000001" y1="418.15373541821793" x2="111.92" y2="418.15373541821793" stroke="#ff3714" stroke-width="1.3"/>
<circle cx="109.62" cy="421.5537354182179" r="2.0" fill="#ff3714"/>
<line x1="116.19999999999999" y1="423.2911392405063" x2="116.19999999999999" y2="419.89113924050633" stroke="#ff3714" stroke-width="1.2"/>
<line x1="113.89999999999999" y1="419.89113924050633" x2="118.49999999999999" y2="419.89113924050633" stroke="#ff3714" stroke-width="1.3"/>
<circle cx="116.19999999999999" cy="423.2911392405063" r="2.0" fill="#ff3714"/>
<line x1="122.78" y1="421.30553487217674" x2="122.78" y2="417.90553487217676" stroke="#ff3714" stroke-width="1.2"/>
<line x1="120.48" y1="417.90553487217676" x2="125.08" y2="417.90553487217676" stroke="#ff3714" stroke-width="1.3"/>
<circle cx="122.78" cy="421.30553487217674" r="2.0" fill="#ff3714"/>
<line x1="129.36" y1="405.42069992553985" x2="129.36" y2="402.0206999255399" stroke="#ff3714" stroke-width="1.2"/>
<line x1="127.06000000000002" y1="402.0206999255399" x2="131.66000000000003" y2="402.0206999255399" stroke="#ff3714" stroke-width="1.3"/>
<circle cx="129.36" cy="405.42069992553985" r="2.0" fill="#ff3714"/>
<line x1="135.94" y1="400.95309009679823" x2="135.94" y2="397.55309009679826" stroke="#ff3714" stroke-width="1.2"/>
<line x1="133.64" y1="397.55309009679826" x2="138.24" y2="397.55309009679826" stroke="#ff3714" stroke-width="1.3"/>
<circle cx="135.94" cy="400.95309009679823" r="2.0" fill="#ff3714"/>
<line x1="142.52" y1="405.42069992553985" x2="142.52" y2="402.0206999255399" stroke="#ff3714" stroke-width="1.2"/>
<line x1="140.22" y1="402.0206999255399" x2="144.82000000000002" y2="402.0206999255399" stroke="#ff3714" stroke-width="1.3"/>
<circle cx="142.52" cy="405.42069992553985" r="2.0" fill="#ff3714"/>
<line x1="149.1" y1="412.86671630677586" x2="149.1" y2="409.4667163067759" stroke="#ff3714" stroke-width="1.2"/>
<line x1="146.79999999999998" y1="409.4667163067759" x2="151.4" y2="409.4667163067759" stroke="#ff3714" stroke-width="1.3"/>
<circle cx="149.1" cy="412.86671630677586" r="2.0" fill="#ff3714"/>
<line x1="155.68" y1="415.8451228592703" x2="155.68" y2="412.4451228592703" stroke="#ff3714" stroke-width="1.2"/>
<line x1="153.38" y1="412.4451228592703" x2="157.98000000000002" y2="412.4451228592703" stroke="#ff3714" stroke-width="1.3"/>
<circle cx="155.68" cy="415.8451228592703" r="2.0" fill="#ff3714"/>
<line x1="162.26" y1="417.0861255894763" x2="162.26" y2="413.6861255894763" stroke="#ff3714" stroke-width="1.2"/>
<line x1="159.95999999999998" y1="413.6861255894763" x2="164.56" y2="413.6861255894763" stroke="#ff3714" stroke-width="1.3"/>
<circle cx="162.26" cy="417.0861255894763" r="2.0" fill="#ff3714"/>
<line x1="168.84" y1="412.86671630677586" x2="168.84" y2="409.4667163067759" stroke="#ff3714" stroke-width="1.2"/>
<line x1="166.54" y1="409.4667163067759" x2="171.14000000000001" y2="409.4667163067759" stroke="#ff3714" stroke-width="1.3"/>
<circle cx="168.84" cy="412.86671630677586" r="2.0" fill="#ff3714"/>
<line x1="175.42" y1="417.0861255894763" x2="175.42" y2="413.6861255894763" stroke="#ff3714" stroke-width="1.2"/>
<line x1="173.11999999999998" y1="413.6861255894763" x2="177.72" y2="413.6861255894763" stroke="#ff3714" stroke-width="1.3"/>
<circle cx="175.42" cy="417.0861255894763" r="2.0" fill="#ff3714"/>
<line x1="182.0" y1="417.5825266815587" x2="182.0" y2="414.1825266815587" stroke="#ff3714" stroke-width="1.2"/>
<line x1="179.7" y1="414.1825266815587" x2="184.3" y2="414.1825266815587" stroke="#ff3714" stroke-width="1.3"/>
<circle cx="182.0" cy="417.5825266815587" r="2.0" fill="#ff3714"/>
<line x1="188.58" y1="418.3271283196823" x2="188.58" y2="414.9271283196823" stroke="#ff3714" stroke-width="1.2"/>
<line x1="186.28" y1="414.9271283196823" x2="190.88000000000002" y2="414.9271283196823" stroke="#ff3714" stroke-width="1.3"/>
<circle cx="188.58" cy="418.3271283196823" r="2.0" fill="#ff3714"/>
<line x1="195.16" y1="412.86671630677586" x2="195.16" y2="409.4667163067759" stroke="#ff3714" stroke-width="1.2"/>
<line x1="192.85999999999999" y1="409.4667163067759" x2="197.46" y2="409.4667163067759" stroke="#ff3714" stroke-width="1.3"/>
<circle cx="195.16" cy="412.86671630677586" r="2.0" fill="#ff3714"/>
<line x1="201.74" y1="410.8811119384463" x2="201.74" y2="407.4811119384463" stroke="#ff3714" stroke-width="1.2"/>
<line x1="199.44" y1="407.4811119384463" x2="204.04000000000002" y2="407.4811119384463" stroke="#ff3714" stroke-width="1.3"/>
<circle cx="201.74" cy="410.8811119384463" r="2.0" fill="#ff3714"/>
<polyline points="50.40,431.98 56.98,434.96 63.56,433.96 70.14,417.09 76.72,427.76 83.30,431.23 89.88,432.47 96.46,431.98 103.04,433.96 109.62,433.47 116.20,433.47 122.78,430.74 129.36,419.57 135.94,415.10 142.52,418.58 149.10,421.55 155.68,425.28 162.26,426.27 168.84,426.27 175.42,426.77 182.00,428.26 188.58,425.77 195.16,424.04 201.74,425.77" fill="none" stroke="#1337ff" stroke-width="1.3" stroke-linejoin="round"/>
<line x1="50.4" y1="431.97815835194837" x2="50.4" y2="434.97815835194837" stroke="#1337ff" stroke-width="1.2"/>
<line x1="48.1" y1="434.97815835194837" x2="52.699999999999996" y2="434.97815835194837" stroke="#1337ff" stroke-width="1.3"/>
<circle cx="50.4" cy="431.97815835194837" r="2.0" fill="#1337ff"/>
<line x1="56.98" y1="434.95656490444276" x2="56.98" y2="437.95656490444276" stroke="#1337ff" stroke-width="1.2"/>
<line x1="54.68" y1="437.95656490444276" x2="59.279999999999994" y2="437.95656490444276" stroke="#1337ff" stroke-width="1.3"/>
<circle cx="56.98" cy="434.95656490444276" r="2.0" fill="#1337ff"/>
<line x1="63.56" y1="433.963762720278" x2="63.56" y2="436.963762720278" stroke="#1337ff" stroke-width="1.2"/>
<line x1="61.260000000000005" y1="436.963762720278" x2="65.86" y2="436.963762720278" stroke="#1337ff" stroke-width="1.3"/>
<circle cx="63.56" cy="433.963762720278" r="2.0" fill="#1337ff"/>
<line x1="70.14" y1="417.0861255894763" x2="70.14" y2="420.0861255894763" stroke="#1337ff" stroke-width="1.2"/>
<line x1="67.84" y1="420.0861255894763" x2="72.44" y2="420.0861255894763" stroke="#1337ff" stroke-width="1.3"/>
<circle cx="70.14" cy="417.0861255894763" r="2.0" fill="#1337ff"/>
<line x1="76.72" y1="427.758749069248" x2="76.72" y2="430.758749069248" stroke="#1337ff" stroke-width="1.2"/>
<line x1="74.42" y1="430.758749069248" x2="79.02" y2="430.758749069248" stroke="#1337ff" stroke-width="1.3"/>
<circle cx="76.72" cy="427.758749069248" r="2.0" fill="#1337ff"/>
<line x1="83.3" y1="431.2335567138248" x2="83.3" y2="434.2335567138248" stroke="#1337ff" stroke-width="1.2"/>
<line x1="81.0" y1="434.2335567138248" x2="85.6" y2="434.2335567138248" stroke="#1337ff" stroke-width="1.3"/>
<circle cx="83.3" cy="431.2335567138248" r="2.0" fill="#1337ff"/>
<line x1="89.88" y1="432.4745594440308" x2="89.88" y2="435.4745594440308" stroke="#1337ff" stroke-width="1.2"/>
<line x1="87.58" y1="435.4745594440308" x2="92.17999999999999" y2="435.4745594440308" stroke="#1337ff" stroke-width="1.3"/>
<circle cx="89.88" cy="432.4745594440308" r="2.0" fill="#1337ff"/>
<line x1="96.46000000000001" y1="431.97815835194837" x2="96.46000000000001" y2="434.97815835194837" stroke="#1337ff" stroke-width="1.2"/>
<line x1="94.16000000000001" y1="434.97815835194837" x2="98.76" y2="434.97815835194837" stroke="#1337ff" stroke-width="1.3"/>
<circle cx="96.46000000000001" cy="431.97815835194837" r="2.0" fill="#1337ff"/>
<line x1="103.03999999999999" y1="433.963762720278" x2="103.03999999999999" y2="436.963762720278" stroke="#1337ff" stroke-width="1.2"/>
<line x1="100.74" y1="436.963762720278" x2="105.33999999999999" y2="436.963762720278" stroke="#1337ff" stroke-width="1.3"/>
<circle cx="103.03999999999999" cy="433.963762720278" r="2.0" fill="#1337ff"/>
<line x1="109.62" y1="433.4673616281956" x2="109.62" y2="436.4673616281956" stroke="#1337ff" stroke-width="1.2"/>
<line x1="107.32000000000001" y1="436.4673616281956" x2="111.92" y2="436.4673616281956" stroke="#1337ff" stroke-width="1.3"/>
<circle cx="109.62" cy="433.4673616281956" r="2.0" fill="#1337ff"/>
<line x1="116.19999999999999" y1="433.4673616281956" x2="116.19999999999999" y2="436.4673616281956" stroke="#1337ff" stroke-width="1.2"/>
<line x1="113.89999999999999" y1="436.4673616281956" x2="118.49999999999999" y2="436.4673616281956" stroke="#1337ff" stroke-width="1.3"/>
<circle cx="116.19999999999999" cy="433.4673616281956" r="2.0" fill="#1337ff"/>
<line x1="122.78" y1="430.7371556217424" x2="122.78" y2="433.7371556217424" stroke="#1337ff" stroke-width="1.2"/>
<line x1="120.48" y1="433.7371556217424" x2="125.08" y2="433.7371556217424" stroke="#1337ff" stroke-width="1.3"/>
<circle cx="122.78" cy="430.7371556217424" r="2.0" fill="#1337ff"/>
<line x1="129.36" y1="419.5681310498883" x2="129.36" y2="422.5681310498883" stroke="#1337ff" stroke-width="1.2"/>
<line x1="127.06000000000002" y1="422.5681310498883" x2="131.66000000000003" y2="422.5681310498883" stroke="#1337ff" stroke-width="1.3"/>
<circle cx="129.36" cy="419.5681310498883" r="2.0" fill="#1337ff"/>
<line x1="135.94" y1="415.10052122114666" x2="135.94" y2="418.10052122114666" stroke="#1337ff" stroke-width="1.2"/>
<line x1="133.64" y1="418.10052122114666" x2="138.24" y2="418.10052122114666" stroke="#1337ff" stroke-width="1.3"/>
<circle cx="135.94" cy="415.10052122114666" r="2.0" fill="#1337ff"/>
<line x1="142.52" y1="418.5753288657235" x2="142.52" y2="421.5753288657235" stroke="#1337ff" stroke-width="1.2"/>
<line x1="140.22" y1="421.5753288657235" x2="144.82000000000002" y2="421.5753288657235" stroke="#1337ff" stroke-width="1.3"/>
<circle cx="142.52" cy="418.5753288657235" r="2.0" fill="#1337ff"/>
<line x1="149.1" y1="421.5537354182179" x2="149.1" y2="424.5537354182179" stroke="#1337ff" stroke-width="1.2"/>
<line x1="146.79999999999998" y1="424.5537354182179" x2="151.4" y2="424.5537354182179" stroke="#1337ff" stroke-width="1.3"/>
<circle cx="149.1" cy="421.5537354182179" r="2.0" fill="#1337ff"/>
<line x1="155.68" y1="425.27674360883594" x2="155.68" y2="428.27674360883594" stroke="#1337ff" stroke-width="1.2"/>
<line x1="153.38" y1="428.27674360883594" x2="157.98000000000002" y2="428.27674360883594" stroke="#1337ff" stroke-width="1.3"/>
<circle cx="155.68" cy="425.27674360883594" r="2.0" fill="#1337ff"/>
<line x1="162.26" y1="426.26954579300076" x2="162.26" y2="429.26954579300076" stroke="#1337ff" stroke-width="1.2"/>
<line x1="159.95999999999998" y1="429.26954579300076" x2="164.56" y2="429.26954579300076" stroke="#1337ff" stroke-width="1.3"/>
<circle cx="162.26" cy="426.26954579300076" r="2.0" fill="#1337ff"/>
<line x1="168.84" y1="426.26954579300076" x2="168.84" y2="429.26954579300076" stroke="#1337ff" stroke-width="1.2"/>
<line x1="166.54" y1="429.26954579300076" x2="171.14000000000001" y2="429.26954579300076" stroke="#1337ff" stroke-width="1.3"/>
<circle cx="168.84" cy="426.26954579300076" r="2.0" fill="#1337ff"/>
<line x1="175.42" y1="426.76594688508317" x2="175.42" y2="429.76594688508317" stroke="#1337ff" stroke-width="1.2"/>
<line x1="173.11999999999998" y1="429.76594688508317" x2="177.72" y2="429.76594688508317" stroke="#1337ff" stroke-width="1.3"/>
<circle cx="175.42" cy="426.76594688508317" r="2.0" fill="#1337ff"/>
<line x1="182.0" y1="428.25515016133033" x2="182.0" y2="431.25515016133033" stroke="#1337ff" stroke-width="1.2"/>
<line x1="179.7" y1="431.25515016133033" x2="184.3" y2="431.25515016133033" stroke="#1337ff" stroke-width="1.3"/>
<circle cx="182.0" cy="428.25515016133033" r="2.0" fill="#1337ff"/>
<line x1="188.58" y1="425.77314470091835" x2="188.58" y2="428.77314470091835" stroke="#1337ff" stroke-width="1.2"/>
<line x1="186.28" y1="428.77314470091835" x2="190.88000000000002" y2="428.77314470091835" stroke="#1337ff" stroke-width="1.3"/>
<circle cx="188.58" cy="425.77314470091835" r="2.0" fill="#1337ff"/>
<line x1="195.16" y1="424.03574087862995" x2="195.16" y2="427.03574087862995" stroke="#1337ff" stroke-width="1.2"/>
<line x1="192.85999999999999" y1="427.03574087862995" x2="197.46" y2="427.03574087862995" stroke="#1337ff" stroke-width="1.3"/>
<circle cx="195.16" cy="424.03574087862995" r="2.0" fill="#1337ff"/>
<line x1="201.74" y1="425.77314470091835" x2="201.74" y2="428.77314470091835" stroke="#1337ff" stroke-width="1.2"/>
<line x1="199.44" y1="428.77314470091835" x2="204.04000000000002" y2="428.77314470091835" stroke="#1337ff" stroke-width="1.3"/>
<circle cx="201.74" cy="425.77314470091835" r="2.0" fill="#1337ff"/>
<line x1="49.1" y1="390.2" x2="59.9" y2="390.2" stroke="#222" stroke-width="1.2"/>
<path d="M54.00,382.00L54.00,387.60M51.58,383.40L56.42,386.20M56.42,383.40L51.58,386.20" stroke="#111" stroke-width="1.4" stroke-linecap="butt" fill="none"/>
<line x1="79.4" y1="390.2" x2="203.2" y2="390.2" stroke="#222" stroke-width="1.2"/>
<path d="M141.30,382.00L141.30,387.60M138.88,383.40L143.72,386.20M143.72,383.40L138.88,386.20" stroke="#111" stroke-width="1.4" stroke-linecap="butt" fill="none"/>
<line x1="155.4" y1="448.6" x2="167.8" y2="448.6" stroke="#1337ff" stroke-width="1.4"/>
<circle cx="161.60000000000002" cy="448.6" r="2.0" fill="#1337ff"/>
<text x="174" y="451.90000000000003" font-size="9.2" text-anchor="start" font-weight="normal" font-style="normal" fill="#000" stroke="#000" stroke-width="0.15" >Control</text>
<line x1="155.4" y1="464.2" x2="167.8" y2="464.2" stroke="#ff3714" stroke-width="1.4"/>
<circle cx="161.60000000000002" cy="464.2" r="2.0" fill="#ff3714"/>
<text x="174" y="467.5" font-size="9.2" text-anchor="start" font-weight="normal" font-style="italic" fill="#000" stroke="#000" stroke-width="0.15" >Cideb</text>
<text transform="translate(10.9,425.7) rotate(-90)" font-size="10.9" text-anchor="middle" stroke="#000" stroke-width="0.15" >Energy expenditure</text>
<text transform="translate(24.6,425.7) rotate(-90)" font-size="10.9" text-anchor="middle" stroke="#000" stroke-width="0.15" ><tspan font-size="11.4" letter-spacing="0.2">(ml LBM<tspan dy="-3.8" font-size="7.8">-1</tspan><tspan dy="3.8"> h</tspan><tspan dy="-3.8" font-size="7.8">-1</tspan><tspan dy="3.8">)</tspan></tspan></text>
<text x="315" y="350.5" font-size="18" text-anchor="start" font-weight="bold" font-style="normal" fill="#000" stroke="#000" stroke-width="0" >j</text>
<line x1="359.6" y1="371.1" x2="359.6" y2="484.2" stroke="#262626" stroke-width="1.4"/>
<line x1="356.40000000000003" y1="371.8" x2="359.6" y2="371.8" stroke="#262626" stroke-width="1.4"/>
<text x="354.90000000000003" y="376.2" font-size="10.5" text-anchor="end" font-weight="normal" font-style="normal" fill="#000" stroke="#000" stroke-width="0.15" >4.0</text>
<line x1="356.40000000000003" y1="408.2" x2="359.6" y2="408.2" stroke="#262626" stroke-width="1.4"/>
<text x="354.90000000000003" y="412.59999999999997" font-size="10.5" text-anchor="end" font-weight="normal" font-style="normal" fill="#000" stroke="#000" stroke-width="0.15" >3.0</text>
<line x1="356.40000000000003" y1="444.6" x2="359.6" y2="444.6" stroke="#262626" stroke-width="1.4"/>
<text x="354.90000000000003" y="449.0" font-size="10.5" text-anchor="end" font-weight="normal" font-style="normal" fill="#000" stroke="#000" stroke-width="0.15" >2.0</text>
<line x1="356.40000000000003" y1="481" x2="359.6" y2="481" stroke="#262626" stroke-width="1.4"/>
<text x="354.90000000000003" y="485.4" font-size="10.5" text-anchor="end" font-weight="normal" font-style="normal" fill="#000" stroke="#000" stroke-width="0.15" >1.0</text>
<line x1="356.40000000000003" y1="481" x2="524" y2="481" stroke="#262626" stroke-width="1.4"/>
<line x1="359.6" y1="481" x2="359.6" y2="484.2" stroke="#262626" stroke-width="1.4"/>
<text x="359.6" y="495.5" font-size="10.5" text-anchor="middle" font-weight="normal" font-style="normal" fill="#000" stroke="#000" stroke-width="0.15" >20</text>
<line x1="400.70000000000005" y1="481" x2="400.70000000000005" y2="484.2" stroke="#262626" stroke-width="1.4"/>
<text x="400.70000000000005" y="495.5" font-size="10.5" text-anchor="middle" font-weight="normal" font-style="normal" fill="#000" stroke="#000" stroke-width="0.15" >21</text>
<line x1="441.8" y1="481" x2="441.8" y2="484.2" stroke="#262626" stroke-width="1.4"/>
<text x="441.8" y="495.5" font-size="10.5" text-anchor="middle" font-weight="normal" font-style="normal" fill="#000" stroke="#000" stroke-width="0.15" >22</text>
<line x1="482.90000000000003" y1="481" x2="482.90000000000003" y2="484.2" stroke="#262626" stroke-width="1.4"/>
<text x="482.90000000000003" y="495.5" font-size="10.5" text-anchor="middle" font-weight="normal" font-style="normal" fill="#000" stroke="#000" stroke-width="0.15" >23</text>
<line x1="524.0" y1="481" x2="524.0" y2="484.2" stroke="#262626" stroke-width="1.4"/>
<text x="524.0" y="495.5" font-size="10.5" text-anchor="middle" font-weight="normal" font-style="normal" fill="#000" stroke="#000" stroke-width="0.15" >24</text>
<text x="441.9" y="511" font-size="11.4" text-anchor="middle" font-weight="normal" font-style="normal" fill="#000" stroke="#000" stroke-width="0.15" >Lean body mass (g)</text>
<text transform="translate(321.3,424.5) rotate(-90)" font-size="10.9" text-anchor="middle" stroke="#000" stroke-width="0.15" >Energy expenditure</text>
<text transform="translate(335,425) rotate(-90)" font-size="10.9" text-anchor="middle" stroke="#000" stroke-width="0.15" >(kJ/h per mouse)</text>
<line x1="380.1" y1="446.6" x2="483.1" y2="411.9" stroke="#ff3714" stroke-width="1.3"/>
<line x1="388.3" y1="444.8" x2="470.5" y2="435.4" stroke="#1337ff" stroke-width="1.3"/>
<circle cx="380.1" cy="434.3" r="2.1" fill="#ff3714"/>
<circle cx="401" cy="420.2" r="2.1" fill="#ff3714"/>
<circle cx="392.4" cy="459.1" r="2.1" fill="#ff3714"/>
<circle cx="437.4" cy="453.4" r="2.1" fill="#ff3714"/>
<circle cx="458.2" cy="420.7" r="2.1" fill="#ff3714"/>
<circle cx="458.2" cy="429.9" r="2.1" fill="#ff3714"/>
<circle cx="474.6" cy="404.3" r="2.1" fill="#ff3714"/>
<circle cx="483.1" cy="401.6" r="2.1" fill="#ff3714"/>
<circle cx="388.3" cy="441.1" r="2.1" fill="#1337ff"/>
<circle cx="404.7" cy="435.4" r="2.1" fill="#1337ff"/>
<circle cx="413.2" cy="447.8" r="2.1" fill="#1337ff"/>
<circle cx="421" cy="452.3" r="2.1" fill="#1337ff"/>
<circle cx="437.8" cy="438.4" r="2.1" fill="#1337ff"/>
<circle cx="466.4" cy="437" r="2.1" fill="#1337ff"/>
<circle cx="470.5" cy="430.9" r="2.1" fill="#1337ff"/>
<text x="472.5" y="465" font-size="10.5" stroke="#000" stroke-width="0.25"><tspan font-style="italic">p</tspan> &lt; 0.05</text>
<line x1="534.1" y1="374.9" x2="546.9" y2="374.9" stroke="#4a6cf0" stroke-width="1.4"/>
<text x="553" y="378.4" font-size="9" text-anchor="start" font-weight="normal" font-style="normal" fill="#000" stroke="#000" stroke-width="0.15" >Control</text>
<text x="535.9" y="395.9" font-size="9.85" stroke="#000" stroke-width="0.1"><tspan font-style="italic">y</tspan> = -0.0309x – 0.1639</text>
<text x="535.9" y="407.3" font-size="9.85" stroke="#000" stroke-width="0.1">R<tspan dy="2.5" font-size="6.5">2</tspan><tspan dy="-2.5"> = 0.2322</tspan></text>
<line x1="534.1" y1="424.8" x2="546.9" y2="424.8" stroke="#ff5a3c" stroke-width="1.4"/>
<text x="553.4" y="428.3" font-size="9" text-anchor="start" font-weight="normal" font-style="italic" fill="#000" stroke="#000" stroke-width="0.15" >Cideb</text>
<text x="535.9" y="445.8" font-size="9.85" stroke="#000" stroke-width="0.1"><tspan font-style="italic">y</tspan> = 0.0901x – 1.382</text>
<text x="535.9" y="456.7" font-size="9.85" stroke="#000" stroke-width="0.1">R<tspan dy="2.5" font-size="6.5">2</tspan><tspan dy="-2.5"> = 0.4058</tspan></text>
<text x="1" y="548" font-size="18.5" text-anchor="start" font-weight="bold" font-style="normal" fill="#000" stroke="#000" stroke-width="0" >k</text>
<rect x="63.7" y="549.2" width="77.99999999999999" height="14.399999999999977" fill="#fff" stroke="#888888" stroke-width="1.2"/>
<rect x="142.2" y="548.7" width="72.4" height="15.399999999999977" fill="#7a7a7a"/>
<text x="102.69999999999999" y="560.3000000000001" font-size="10.6" text-anchor="middle" font-weight="normal" font-style="normal" fill="#939393" stroke="#939393" stroke-width="0.15" >Light cycle</text>
<text x="178.39999999999998" y="560.3000000000001" font-size="10.6" text-anchor="middle" font-weight="normal" font-style="normal" fill="#fff" stroke="#fff" stroke-width="0.15" >Dark cycle</text>
<line x1="60.7" y1="566.3" x2="60.7" y2="675.8" stroke="#262626" stroke-width="1.4"/>
<line x1="57.5" y1="567" x2="60.7" y2="567" stroke="#262626" stroke-width="1.4"/>
<text x="56.0" y="571.4" font-size="10.5" text-anchor="end" font-weight="normal" font-style="normal" fill="#000" stroke="#000" stroke-width="0.15" >9000</text>
<line x1="57.5" y1="603.3" x2="60.7" y2="603.3" stroke="#262626" stroke-width="1.4"/>
<text x="56.0" y="607.6999999999999" font-size="10.5" text-anchor="end" font-weight="normal" font-style="normal" fill="#000" stroke="#000" stroke-width="0.15" >6000</text>
<line x1="57.5" y1="639.6" x2="60.7" y2="639.6" stroke="#262626" stroke-width="1.4"/>
<text x="56.0" y="644.0" font-size="10.5" text-anchor="end" font-weight="normal" font-style="normal" fill="#000" stroke="#000" stroke-width="0.15" >3000</text>
<line x1="57.5" y1="675.8" x2="60.7" y2="675.8" stroke="#262626" stroke-width="1.4"/>
<text x="56.0" y="680.1999999999999" font-size="10.5" text-anchor="end" font-weight="normal" font-style="normal" fill="#000" stroke="#000" stroke-width="0.15" >0</text>
<line x1="60.0" y1="675.8" x2="216.8" y2="675.8" stroke="#262626" stroke-width="1.4"/>
<line x1="63.7" y1="675.8" x2="63.7" y2="678.8" stroke="#262626" stroke-width="1.3"/>
<text transform="translate(66.0,689.0) rotate(-45)" font-size="10.3" text-anchor="end" stroke="#000" stroke-width="0.15">07:00</text>
<line x1="83.38" y1="675.8" x2="83.38" y2="678.8" stroke="#262626" stroke-width="1.3"/>
<text transform="translate(85.67999999999999,689.0) rotate(-45)" font-size="10.3" text-anchor="end" stroke="#000" stroke-width="0.15">10:00</text>
<line x1="103.06" y1="675.8" x2="103.06" y2="678.8" stroke="#262626" stroke-width="1.3"/>
<text transform="translate(105.36,689.0) rotate(-45)" font-size="10.3" text-anchor="end" stroke="#000" stroke-width="0.15">13:00</text>
<line x1="122.74000000000001" y1="675.8" x2="122.74000000000001" y2="678.8" stroke="#262626" stroke-width="1.3"/>
<text transform="translate(125.04,689.0) rotate(-45)" font-size="10.3" text-anchor="end" stroke="#000" stroke-width="0.15">16:00</text>
<line x1="142.42000000000002" y1="675.8" x2="142.42000000000002" y2="678.8" stroke="#262626" stroke-width="1.3"/>
<text transform="translate(144.72000000000003,689.0) rotate(-45)" font-size="10.3" text-anchor="end" stroke="#000" stroke-width="0.15">19:00</text>
<line x1="162.10000000000002" y1="675.8" x2="162.10000000000002" y2="678.8" stroke="#262626" stroke-width="1.3"/>
<text transform="translate(164.40000000000003,689.0) rotate(-45)" font-size="10.3" text-anchor="end" stroke="#000" stroke-width="0.15">22:00</text>
<line x1="181.78" y1="675.8" x2="181.78" y2="678.8" stroke="#262626" stroke-width="1.3"/>
<text transform="translate(184.08,689.0) rotate(-45)" font-size="10.3" text-anchor="end" stroke="#000" stroke-width="0.15">01:00</text>
<line x1="201.45999999999998" y1="675.8" x2="201.45999999999998" y2="678.8" stroke="#262626" stroke-width="1.3"/>
<text transform="translate(203.76,689.0) rotate(-45)" font-size="10.3" text-anchor="end" stroke="#000" stroke-width="0.15">04:00</text>
<polyline points="63.70,610.24 70.26,611.98 76.82,613.96 83.38,599.57 89.94,605.03 96.50,609.50 103.06,609.50 109.62,611.23 116.18,613.22 122.74,610.74 129.30,612.47 135.86,610.74 142.42,591.38 148.98,586.41 155.54,591.38 162.10,600.31 168.66,604.04 175.22,605.03 181.78,600.31 188.34,605.03 194.90,605.28 201.46,605.77 208.02,600.06 214.58,598.82" fill="none" stroke="#ff3714" stroke-width="1.3" stroke-linejoin="round"/>
<line x1="63.7" y1="610.24075452966" x2="63.7" y2="607.0407545296599" stroke="#ff3714" stroke-width="1.2"/>
<line x1="61.400000000000006" y1="607.0407545296599" x2="66.0" y2="607.0407545296599" stroke="#ff3714" stroke-width="1.3"/>
<circle cx="63.7" cy="610.24075452966" r="2.0" fill="#ff3714"/>
<line x1="70.26" y1="611.9781583519484" x2="70.26" y2="608.7781583519484" stroke="#ff3714" stroke-width="1.2"/>
<line x1="67.96000000000001" y1="608.7781583519484" x2="72.56" y2="608.7781583519484" stroke="#ff3714" stroke-width="1.3"/>
<circle cx="70.26" cy="611.9781583519484" r="2.0" fill="#ff3714"/>
<line x1="76.82000000000001" y1="613.9637627202779" x2="76.82000000000001" y2="610.7637627202779" stroke="#ff3714" stroke-width="1.2"/>
<line x1="74.52000000000001" y1="610.7637627202779" x2="79.12" y2="610.7637627202779" stroke="#ff3714" stroke-width="1.3"/>
<circle cx="76.82000000000001" cy="613.9637627202779" r="2.0" fill="#ff3714"/>
<line x1="83.38" y1="599.5681310498883" x2="83.38" y2="596.3681310498882" stroke="#ff3714" stroke-width="1.2"/>
<line x1="81.08" y1="596.3681310498882" x2="85.67999999999999" y2="596.3681310498882" stroke="#ff3714" stroke-width="1.3"/>
<circle cx="83.38" cy="599.5681310498883" r="2.0" fill="#ff3714"/>
<line x1="89.94" y1="605.0285430627947" x2="89.94" y2="601.8285430627947" stroke="#ff3714" stroke-width="1.2"/>
<line x1="87.64" y1="601.8285430627947" x2="92.24" y2="601.8285430627947" stroke="#ff3714" stroke-width="1.3"/>
<circle cx="89.94" cy="605.0285430627947" r="2.0" fill="#ff3714"/>
<line x1="96.5" y1="609.4961528915363" x2="96.5" y2="606.2961528915363" stroke="#ff3714" stroke-width="1.2"/>
<line x1="94.2" y1="606.2961528915363" x2="98.8" y2="606.2961528915363" stroke="#ff3714" stroke-width="1.3"/>
<circle cx="96.5" cy="609.4961528915363" r="2.0" fill="#ff3714"/>
<line x1="103.06" y1="609.4961528915363" x2="103.06" y2="606.2961528915363" stroke="#ff3714" stroke-width="1.2"/>
<line x1="100.76" y1="606.2961528915363" x2="105.36" y2="606.2961528915363" stroke="#ff3714" stroke-width="1.3"/>
<circle cx="103.06" cy="609.4961528915363" r="2.0" fill="#ff3714"/>
<line x1="109.62" y1="611.2335567138248" x2="109.62" y2="608.0335567138247" stroke="#ff3714" stroke-width="1.2"/>
<line x1="107.32000000000001" y1="608.0335567138247" x2="111.92" y2="608.0335567138247" stroke="#ff3714" stroke-width="1.3"/>
<circle cx="109.62" cy="611.2335567138248" r="2.0" fill="#ff3714"/>
<line x1="116.18" y1="613.2191610821544" x2="116.18" y2="610.0191610821544" stroke="#ff3714" stroke-width="1.2"/>
<line x1="113.88000000000001" y1="610.0191610821544" x2="118.48" y2="610.0191610821544" stroke="#ff3714" stroke-width="1.3"/>
<circle cx="116.18" cy="613.2191610821544" r="2.0" fill="#ff3714"/>
<line x1="122.74000000000001" y1="610.7371556217424" x2="122.74000000000001" y2="607.5371556217424" stroke="#ff3714" stroke-width="1.2"/>
<line x1="120.44000000000001" y1="607.5371556217424" x2="125.04" y2="607.5371556217424" stroke="#ff3714" stroke-width="1.3"/>
<circle cx="122.74000000000001" cy="610.7371556217424" r="2.0" fill="#ff3714"/>
<line x1="129.3" y1="612.4745594440308" x2="129.3" y2="609.2745594440307" stroke="#ff3714" stroke-width="1.2"/>
<line x1="127.00000000000001" y1="609.2745594440307" x2="131.60000000000002" y2="609.2745594440307" stroke="#ff3714" stroke-width="1.3"/>
<circle cx="129.3" cy="612.4745594440308" r="2.0" fill="#ff3714"/>
<line x1="135.86" y1="610.7371556217424" x2="135.86" y2="607.5371556217424" stroke="#ff3714" stroke-width="1.2"/>
<line x1="133.56" y1="607.5371556217424" x2="138.16000000000003" y2="607.5371556217424" stroke="#ff3714" stroke-width="1.3"/>
<circle cx="135.86" cy="610.7371556217424" r="2.0" fill="#ff3714"/>
<line x1="142.42000000000002" y1="591.3775130305287" x2="142.42000000000002" y2="588.1775130305286" stroke="#ff3714" stroke-width="1.2"/>
<line x1="140.12" y1="588.1775130305286" x2="144.72000000000003" y2="588.1775130305286" stroke="#ff3714" stroke-width="1.3"/>
<circle cx="142.42000000000002" cy="591.3775130305287" r="2.0" fill="#ff3714"/>
<line x1="148.98000000000002" y1="586.4135021097046" x2="148.98000000000002" y2="583.2135021097046" stroke="#ff3714" stroke-width="1.2"/>
<line x1="146.68" y1="583.2135021097046" x2="151.28000000000003" y2="583.2135021097046" stroke="#ff3714" stroke-width="1.3"/>
<circle cx="148.98000000000002" cy="586.4135021097046" r="2.0" fill="#ff3714"/>
<line x1="155.54" y1="591.3775130305287" x2="155.54" y2="588.1775130305286" stroke="#ff3714" stroke-width="1.2"/>
<line x1="153.23999999999998" y1="588.1775130305286" x2="157.84" y2="588.1775130305286" stroke="#ff3714" stroke-width="1.3"/>
<circle cx="155.54" cy="591.3775130305287" r="2.0" fill="#ff3714"/>
<line x1="162.1" y1="600.3127326880119" x2="162.1" y2="597.1127326880119" stroke="#ff3714" stroke-width="1.2"/>
<line x1="159.79999999999998" y1="597.1127326880119" x2="164.4" y2="597.1127326880119" stroke="#ff3714" stroke-width="1.3"/>
<circle cx="162.1" cy="600.3127326880119" r="2.0" fill="#ff3714"/>
<line x1="168.66" y1="604.0357408786299" x2="168.66" y2="600.8357408786298" stroke="#ff3714" stroke-width="1.2"/>
<line x1="166.35999999999999" y1="600.8357408786298" x2="170.96" y2="600.8357408786298" stroke="#ff3714" stroke-width="1.3"/>
<circle cx="168.66" cy="604.0357408786299" r="2.0" fill="#ff3714"/>
<line x1="175.22" y1="605.0285430627947" x2="175.22" y2="601.8285430627947" stroke="#ff3714" stroke-width="1.2"/>
<line x1="172.92" y1="601.8285430627947" x2="177.52" y2="601.8285430627947" stroke="#ff3714" stroke-width="1.3"/>
<circle cx="175.22" cy="605.0285430627947" r="2.0" fill="#ff3714"/>
<line x1="181.78" y1="600.3127326880119" x2="181.78" y2="597.1127326880119" stroke="#ff3714" stroke-width="1.2"/>
<line x1="179.48" y1="597.1127326880119" x2="184.08" y2="597.1127326880119" stroke="#ff3714" stroke-width="1.3"/>
<circle cx="181.78" cy="600.3127326880119" r="2.0" fill="#ff3714"/>
<line x1="188.33999999999997" y1="605.0285430627947" x2="188.33999999999997" y2="601.8285430627947" stroke="#ff3714" stroke-width="1.2"/>
<line x1="186.03999999999996" y1="601.8285430627947" x2="190.64" y2="601.8285430627947" stroke="#ff3714" stroke-width="1.3"/>
<circle cx="188.33999999999997" cy="605.0285430627947" r="2.0" fill="#ff3714"/>
<line x1="194.89999999999998" y1="605.2767436088359" x2="194.89999999999998" y2="602.0767436088358" stroke="#ff3714" stroke-width="1.2"/>
<line x1="192.59999999999997" y1="602.0767436088358" x2="197.2" y2="602.0767436088358" stroke="#ff3714" stroke-width="1.3"/>
<circle cx="194.89999999999998" cy="605.2767436088359" r="2.0" fill="#ff3714"/>
<line x1="201.45999999999998" y1="605.7731447009184" x2="201.45999999999998" y2="602.5731447009183" stroke="#ff3714" stroke-width="1.2"/>
<line x1="199.15999999999997" y1="602.5731447009183" x2="203.76" y2="602.5731447009183" stroke="#ff3714" stroke-width="1.3"/>
<circle cx="201.45999999999998" cy="605.7731447009184" r="2.0" fill="#ff3714"/>
<line x1="208.01999999999998" y1="600.0645321419707" x2="208.01999999999998" y2="596.8645321419707" stroke="#ff3714" stroke-width="1.2"/>
<line x1="205.71999999999997" y1="596.8645321419707" x2="210.32" y2="596.8645321419707" stroke="#ff3714" stroke-width="1.3"/>
<circle cx="208.01999999999998" cy="600.0645321419707" r="2.0" fill="#ff3714"/>
<line x1="214.57999999999998" y1="598.8235294117648" x2="214.57999999999998" y2="595.6235294117647" stroke="#ff3714" stroke-width="1.2"/>
<line x1="212.27999999999997" y1="595.6235294117647" x2="216.88" y2="595.6235294117647" stroke="#ff3714" stroke-width="1.3"/>
<circle cx="214.57999999999998" cy="598.8235294117648" r="2.0" fill="#ff3714"/>
<polyline points="63.70,626.13 70.26,628.36 76.82,628.36 83.38,610.24 89.94,621.91 96.50,624.88 103.06,626.87 109.62,625.63 116.18,628.86 122.74,628.11 129.30,628.11 135.86,625.63 142.42,613.72 148.98,609.00 155.54,612.47 162.10,616.20 168.66,619.42 175.22,620.67 181.78,620.67 188.34,620.67 194.90,622.40 201.46,619.42 208.02,618.68 214.58,620.67" fill="none" stroke="#1337ff" stroke-width="1.3" stroke-linejoin="round"/>
<line x1="63.7" y1="626.1255894762969" x2="63.7" y2="629.1255894762969" stroke="#1337ff" stroke-width="1.2"/>
<line x1="61.400000000000006" y1="629.1255894762969" x2="66.0" y2="629.1255894762969" stroke="#1337ff" stroke-width="1.3"/>
<circle cx="63.7" cy="626.1255894762969" r="2.0" fill="#1337ff"/>
<line x1="70.26" y1="628.3593943906676" x2="70.26" y2="631.3593943906676" stroke="#1337ff" stroke-width="1.2"/>
<line x1="67.96000000000001" y1="631.3593943906676" x2="72.56" y2="631.3593943906676" stroke="#1337ff" stroke-width="1.3"/>
<circle cx="70.26" cy="628.3593943906676" r="2.0" fill="#1337ff"/>
<line x1="76.82000000000001" y1="628.3593943906676" x2="76.82000000000001" y2="631.3593943906676" stroke="#1337ff" stroke-width="1.2"/>
<line x1="74.52000000000001" y1="631.3593943906676" x2="79.12" y2="631.3593943906676" stroke="#1337ff" stroke-width="1.3"/>
<circle cx="76.82000000000001" cy="628.3593943906676" r="2.0" fill="#1337ff"/>
<line x1="83.38" y1="610.24075452966" x2="83.38" y2="613.24075452966" stroke="#1337ff" stroke-width="1.2"/>
<line x1="81.08" y1="613.24075452966" x2="85.67999999999999" y2="613.24075452966" stroke="#1337ff" stroke-width="1.3"/>
<circle cx="83.38" cy="610.24075452966" r="2.0" fill="#1337ff"/>
<line x1="89.94" y1="621.9061801935965" x2="89.94" y2="624.9061801935965" stroke="#1337ff" stroke-width="1.2"/>
<line x1="87.64" y1="624.9061801935965" x2="92.24" y2="624.9061801935965" stroke="#1337ff" stroke-width="1.3"/>
<circle cx="89.94" cy="621.9061801935965" r="2.0" fill="#1337ff"/>
<line x1="96.5" y1="624.8845867460908" x2="96.5" y2="627.8845867460908" stroke="#1337ff" stroke-width="1.2"/>
<line x1="94.2" y1="627.8845867460908" x2="98.8" y2="627.8845867460908" stroke="#1337ff" stroke-width="1.3"/>
<circle cx="96.5" cy="624.8845867460908" r="2.0" fill="#1337ff"/>
<line x1="103.06" y1="626.8701911144204" x2="103.06" y2="629.8701911144204" stroke="#1337ff" stroke-width="1.2"/>
<line x1="100.76" y1="629.8701911144204" x2="105.36" y2="629.8701911144204" stroke="#1337ff" stroke-width="1.3"/>
<circle cx="103.06" cy="626.8701911144204" r="2.0" fill="#1337ff"/>
<line x1="109.62" y1="625.6291883842144" x2="109.62" y2="628.6291883842144" stroke="#1337ff" stroke-width="1.2"/>
<line x1="107.32000000000001" y1="628.6291883842144" x2="111.92" y2="628.6291883842144" stroke="#1337ff" stroke-width="1.3"/>
<circle cx="109.62" cy="625.6291883842144" r="2.0" fill="#1337ff"/>
<line x1="116.18" y1="628.8557954827501" x2="116.18" y2="631.8557954827501" stroke="#1337ff" stroke-width="1.2"/>
<line x1="113.88000000000001" y1="631.8557954827501" x2="118.48" y2="631.8557954827501" stroke="#1337ff" stroke-width="1.3"/>
<circle cx="116.18" cy="628.8557954827501" r="2.0" fill="#1337ff"/>
<line x1="122.74000000000001" y1="628.1111938446264" x2="122.74000000000001" y2="631.1111938446264" stroke="#1337ff" stroke-width="1.2"/>
<line x1="120.44000000000001" y1="631.1111938446264" x2="125.04" y2="631.1111938446264" stroke="#1337ff" stroke-width="1.3"/>
<circle cx="122.74000000000001" cy="628.1111938446264" r="2.0" fill="#1337ff"/>
<line x1="129.3" y1="628.1111938446264" x2="129.3" y2="631.1111938446264" stroke="#1337ff" stroke-width="1.2"/>
<line x1="127.00000000000001" y1="631.1111938446264" x2="131.60000000000002" y2="631.1111938446264" stroke="#1337ff" stroke-width="1.3"/>
<circle cx="129.3" cy="628.1111938446264" r="2.0" fill="#1337ff"/>
<line x1="135.86" y1="625.6291883842144" x2="135.86" y2="628.6291883842144" stroke="#1337ff" stroke-width="1.2"/>
<line x1="133.56" y1="628.6291883842144" x2="138.16000000000003" y2="628.6291883842144" stroke="#1337ff" stroke-width="1.3"/>
<circle cx="135.86" cy="625.6291883842144" r="2.0" fill="#1337ff"/>
<line x1="142.42000000000002" y1="613.7155621742368" x2="142.42000000000002" y2="616.7155621742368" stroke="#1337ff" stroke-width="1.2"/>
<line x1="140.12" y1="616.7155621742368" x2="144.72000000000003" y2="616.7155621742368" stroke="#1337ff" stroke-width="1.3"/>
<circle cx="142.42000000000002" cy="613.7155621742368" r="2.0" fill="#1337ff"/>
<line x1="148.98000000000002" y1="608.999751799454" x2="148.98000000000002" y2="611.999751799454" stroke="#1337ff" stroke-width="1.2"/>
<line x1="146.68" y1="611.999751799454" x2="151.28000000000003" y2="611.999751799454" stroke="#1337ff" stroke-width="1.3"/>
<circle cx="148.98000000000002" cy="608.999751799454" r="2.0" fill="#1337ff"/>
<line x1="155.54" y1="612.4745594440308" x2="155.54" y2="615.4745594440308" stroke="#1337ff" stroke-width="1.2"/>
<line x1="153.23999999999998" y1="615.4745594440308" x2="157.84" y2="615.4745594440308" stroke="#1337ff" stroke-width="1.3"/>
<circle cx="155.54" cy="612.4745594440308" r="2.0" fill="#1337ff"/>
<line x1="162.1" y1="616.1975676346487" x2="162.1" y2="619.1975676346487" stroke="#1337ff" stroke-width="1.2"/>
<line x1="159.79999999999998" y1="619.1975676346487" x2="164.4" y2="619.1975676346487" stroke="#1337ff" stroke-width="1.3"/>
<circle cx="162.1" cy="616.1975676346487" r="2.0" fill="#1337ff"/>
<line x1="168.66" y1="619.4241747331844" x2="168.66" y2="622.4241747331844" stroke="#1337ff" stroke-width="1.2"/>
<line x1="166.35999999999999" y1="622.4241747331844" x2="170.96" y2="622.4241747331844" stroke="#1337ff" stroke-width="1.3"/>
<circle cx="168.66" cy="619.4241747331844" r="2.0" fill="#1337ff"/>
<line x1="175.22" y1="620.6651774633904" x2="175.22" y2="623.6651774633904" stroke="#1337ff" stroke-width="1.2"/>
<line x1="172.92" y1="623.6651774633904" x2="177.52" y2="623.6651774633904" stroke="#1337ff" stroke-width="1.3"/>
<circle cx="175.22" cy="620.6651774633904" r="2.0" fill="#1337ff"/>
<line x1="181.78" y1="620.6651774633904" x2="181.78" y2="623.6651774633904" stroke="#1337ff" stroke-width="1.2"/>
<line x1="179.48" y1="623.6651774633904" x2="184.08" y2="623.6651774633904" stroke="#1337ff" stroke-width="1.3"/>
<circle cx="181.78" cy="620.6651774633904" r="2.0" fill="#1337ff"/>
<line x1="188.33999999999997" y1="620.6651774633904" x2="188.33999999999997" y2="623.6651774633904" stroke="#1337ff" stroke-width="1.2"/>
<line x1="186.03999999999996" y1="623.6651774633904" x2="190.64" y2="623.6651774633904" stroke="#1337ff" stroke-width="1.3"/>
<circle cx="188.33999999999997" cy="620.6651774633904" r="2.0" fill="#1337ff"/>
<line x1="194.89999999999998" y1="622.4025812856788" x2="194.89999999999998" y2="625.4025812856788" stroke="#1337ff" stroke-width="1.2"/>
<line x1="192.59999999999997" y1="625.4025812856788" x2="197.2" y2="625.4025812856788" stroke="#1337ff" stroke-width="1.3"/>
<circle cx="194.89999999999998" cy="622.4025812856788" r="2.0" fill="#1337ff"/>
<line x1="201.45999999999998" y1="619.4241747331844" x2="201.45999999999998" y2="622.4241747331844" stroke="#1337ff" stroke-width="1.2"/>
<line x1="199.15999999999997" y1="622.4241747331844" x2="203.76" y2="622.4241747331844" stroke="#1337ff" stroke-width="1.3"/>
<circle cx="201.45999999999998" cy="619.4241747331844" r="2.0" fill="#1337ff"/>
<line x1="208.01999999999998" y1="618.6795730950608" x2="208.01999999999998" y2="621.6795730950608" stroke="#1337ff" stroke-width="1.2"/>
<line x1="205.71999999999997" y1="621.6795730950608" x2="210.32" y2="621.6795730950608" stroke="#1337ff" stroke-width="1.3"/>
<circle cx="208.01999999999998" cy="618.6795730950608" r="2.0" fill="#1337ff"/>
<line x1="214.57999999999998" y1="620.6651774633904" x2="214.57999999999998" y2="623.6651774633904" stroke="#1337ff" stroke-width="1.2"/>
<line x1="212.27999999999997" y1="623.6651774633904" x2="216.88" y2="623.6651774633904" stroke="#1337ff" stroke-width="1.3"/>
<circle cx="214.57999999999998" cy="620.6651774633904" r="2.0" fill="#1337ff"/>
<line x1="62.4" y1="578" x2="216.8" y2="578" stroke="#5a5a5a" stroke-width="1.2"/>
<path d="M137.40,569.80L137.40,575.40M134.98,571.20L139.82,574.00M139.82,571.20L134.98,574.00" stroke="#111" stroke-width="1.4" stroke-linecap="butt" fill="none"/>
<path d="M144.40,569.80L144.40,575.40M141.98,571.20L146.82,574.00M146.82,571.20L141.98,574.00" stroke="#111" stroke-width="1.4" stroke-linecap="butt" fill="none"/>
<line x1="168" y1="641" x2="181.6" y2="641" stroke="#1337ff" stroke-width="1.4"/>
<circle cx="174.8" cy="641" r="2.0" fill="#1337ff"/>
<text x="186.5" y="644.3" font-size="9.2" text-anchor="start" font-weight="normal" font-style="normal" fill="#000" stroke="#000" stroke-width="0.15" >Control</text>
<line x1="168" y1="655.9" x2="181.6" y2="655.9" stroke="#ff3714" stroke-width="1.4"/>
<circle cx="174.8" cy="655.9" r="2.0" fill="#ff3714"/>
<text x="186.5" y="659.1999999999999" font-size="9.2" text-anchor="start" font-weight="normal" font-style="italic" fill="#000" stroke="#000" stroke-width="0.15" >Cideb</text>
<text transform="translate(10.8,620) rotate(-90)" font-size="10.9" text-anchor="middle" stroke="#000" stroke-width="0.15" >VO<tspan dy="3" font-size="7.5">2</tspan></text>
<text transform="translate(26.5,620) rotate(-90)" font-size="10.9" text-anchor="middle" stroke="#000" stroke-width="0.15" ><tspan font-size="11.4" letter-spacing="0.2">(ml LBM<tspan dy="-3.8" font-size="7.8">-1</tspan><tspan dy="3.8"> h</tspan><tspan dy="-3.8" font-size="7.8">-1</tspan><tspan dy="3.8">)</tspan></tspan></text>
<text x="238" y="548" font-size="18.5" text-anchor="start" font-weight="bold" font-style="normal" fill="#000" stroke="#000" stroke-width="0" >l</text>
<rect x="299.7" y="549.2" width="77.69999999999999" height="14.399999999999977" fill="#fff" stroke="#888888" stroke-width="1.2"/>
<rect x="377.9" y="548.7" width="72.90000000000003" height="15.399999999999977" fill="#7a7a7a"/>
<text x="338.54999999999995" y="560.3000000000001" font-size="10.6" text-anchor="middle" font-weight="normal" font-style="normal" fill="#939393" stroke="#939393" stroke-width="0.15" >Light cycle</text>
<text x="414.35" y="560.3000000000001" font-size="10.6" text-anchor="middle" font-weight="normal" font-style="normal" fill="#fff" stroke="#fff" stroke-width="0.15" >Dark cycle</text>
<line x1="298.1" y1="565.3" x2="298.1" y2="675.3" stroke="#262626" stroke-width="1.4"/>
<line x1="294.90000000000003" y1="566" x2="298.1" y2="566" stroke="#262626" stroke-width="1.4"/>
<text x="293.40000000000003" y="570.4" font-size="10.5" text-anchor="end" font-weight="normal" font-style="normal" fill="#000" stroke="#000" stroke-width="0.15" >7500</text>
<line x1="294.90000000000003" y1="602.4" x2="298.1" y2="602.4" stroke="#262626" stroke-width="1.4"/>
<text x="293.40000000000003" y="606.8" font-size="10.5" text-anchor="end" font-weight="normal" font-style="normal" fill="#000" stroke="#000" stroke-width="0.15" >5000</text>
<line x1="294.90000000000003" y1="638.8" x2="298.1" y2="638.8" stroke="#262626" stroke-width="1.4"/>
<text x="293.40000000000003" y="643.1999999999999" font-size="10.5" text-anchor="end" font-weight="normal" font-style="normal" fill="#000" stroke="#000" stroke-width="0.15" >2500</text>
<line x1="294.90000000000003" y1="675.3" x2="298.1" y2="675.3" stroke="#262626" stroke-width="1.4"/>
<text x="293.40000000000003" y="679.6999999999999" font-size="10.5" text-anchor="end" font-weight="normal" font-style="normal" fill="#000" stroke="#000" stroke-width="0.15" >0</text>
<line x1="297.40000000000003" y1="675.3" x2="454.3" y2="675.3" stroke="#262626" stroke-width="1.4"/>
<line x1="300.4" y1="675.3" x2="300.4" y2="678.3" stroke="#262626" stroke-width="1.3"/>
<text transform="translate(302.7,688.5) rotate(-45)" font-size="10.3" text-anchor="end" stroke="#000" stroke-width="0.15">07:00</text>
<line x1="320.14" y1="675.3" x2="320.14" y2="678.3" stroke="#262626" stroke-width="1.3"/>
<text transform="translate(322.44,688.5) rotate(-45)" font-size="10.3" text-anchor="end" stroke="#000" stroke-width="0.15">10:00</text>
<line x1="339.88" y1="675.3" x2="339.88" y2="678.3" stroke="#262626" stroke-width="1.3"/>
<text transform="translate(342.18,688.5) rotate(-45)" font-size="10.3" text-anchor="end" stroke="#000" stroke-width="0.15">13:00</text>
<line x1="359.62" y1="675.3" x2="359.62" y2="678.3" stroke="#262626" stroke-width="1.3"/>
<text transform="translate(361.92,688.5) rotate(-45)" font-size="10.3" text-anchor="end" stroke="#000" stroke-width="0.15">16:00</text>
<line x1="379.36" y1="675.3" x2="379.36" y2="678.3" stroke="#262626" stroke-width="1.3"/>
<text transform="translate(381.66,688.5) rotate(-45)" font-size="10.3" text-anchor="end" stroke="#000" stroke-width="0.15">19:00</text>
<line x1="399.1" y1="675.3" x2="399.1" y2="678.3" stroke="#262626" stroke-width="1.3"/>
<text transform="translate(401.40000000000003,688.5) rotate(-45)" font-size="10.3" text-anchor="end" stroke="#000" stroke-width="0.15">22:00</text>
<line x1="418.84" y1="675.3" x2="418.84" y2="678.3" stroke="#262626" stroke-width="1.3"/>
<text transform="translate(421.14,688.5) rotate(-45)" font-size="10.3" text-anchor="end" stroke="#000" stroke-width="0.15">01:00</text>
<line x1="438.58" y1="675.3" x2="438.58" y2="678.3" stroke="#262626" stroke-width="1.3"/>
<text transform="translate(440.88,688.5) rotate(-45)" font-size="10.3" text-anchor="end" stroke="#000" stroke-width="0.15">04:00</text>
<polyline points="300.40,611.23 306.98,611.98 313.56,614.46 320.14,603.79 326.72,607.51 333.30,611.98 339.88,610.24 346.46,610.74 353.04,613.22 359.62,609.50 366.20,612.47 372.78,610.24 379.36,595.10 385.94,592.12 392.52,592.87 399.10,598.82 405.68,600.81 412.26,602.79 418.84,599.57 425.42,602.79 432.00,604.04 438.58,603.79 445.16,599.07 451.74,599.07" fill="none" stroke="#ff3714" stroke-width="1.3" stroke-linejoin="round"/>
<line x1="300.4" y1="611.2335567138248" x2="300.4" y2="608.2335567138248" stroke="#ff3714" stroke-width="1.2"/>
<line x1="298.09999999999997" y1="608.2335567138248" x2="302.7" y2="608.2335567138248" stroke="#ff3714" stroke-width="1.3"/>
<circle cx="300.4" cy="611.2335567138248" r="2.0" fill="#ff3714"/>
<line x1="306.97999999999996" y1="611.9781583519484" x2="306.97999999999996" y2="608.9781583519484" stroke="#ff3714" stroke-width="1.2"/>
<line x1="304.67999999999995" y1="608.9781583519484" x2="309.28" y2="608.9781583519484" stroke="#ff3714" stroke-width="1.3"/>
<circle cx="306.97999999999996" cy="611.9781583519484" r="2.0" fill="#ff3714"/>
<line x1="313.56" y1="614.4601638123604" x2="313.56" y2="611.4601638123604" stroke="#ff3714" stroke-width="1.2"/>
<line x1="311.26" y1="611.4601638123604" x2="315.86" y2="611.4601638123604" stroke="#ff3714" stroke-width="1.3"/>
<circle cx="313.56" cy="614.4601638123604" r="2.0" fill="#ff3714"/>
<line x1="320.14" y1="603.7875403325887" x2="320.14" y2="600.7875403325887" stroke="#ff3714" stroke-width="1.2"/>
<line x1="317.84" y1="600.7875403325887" x2="322.44" y2="600.7875403325887" stroke="#ff3714" stroke-width="1.3"/>
<circle cx="320.14" cy="603.7875403325887" r="2.0" fill="#ff3714"/>
<line x1="326.71999999999997" y1="607.5105485232068" x2="326.71999999999997" y2="604.5105485232068" stroke="#ff3714" stroke-width="1.2"/>
<line x1="324.41999999999996" y1="604.5105485232068" x2="329.02" y2="604.5105485232068" stroke="#ff3714" stroke-width="1.3"/>
<circle cx="326.71999999999997" cy="607.5105485232068" r="2.0" fill="#ff3714"/>
<line x1="333.29999999999995" y1="611.9781583519484" x2="333.29999999999995" y2="608.9781583519484" stroke="#ff3714" stroke-width="1.2"/>
<line x1="330.99999999999994" y1="608.9781583519484" x2="335.59999999999997" y2="608.9781583519484" stroke="#ff3714" stroke-width="1.3"/>
<circle cx="333.29999999999995" cy="611.9781583519484" r="2.0" fill="#ff3714"/>
<line x1="339.88" y1="610.24075452966" x2="339.88" y2="607.24075452966" stroke="#ff3714" stroke-width="1.2"/>
<line x1="337.58" y1="607.24075452966" x2="342.18" y2="607.24075452966" stroke="#ff3714" stroke-width="1.3"/>
<circle cx="339.88" cy="610.24075452966" r="2.0" fill="#ff3714"/>
<line x1="346.46" y1="610.7371556217424" x2="346.46" y2="607.7371556217424" stroke="#ff3714" stroke-width="1.2"/>
<line x1="344.15999999999997" y1="607.7371556217424" x2="348.76" y2="607.7371556217424" stroke="#ff3714" stroke-width="1.3"/>
<circle cx="346.46" cy="610.7371556217424" r="2.0" fill="#ff3714"/>
<line x1="353.03999999999996" y1="613.2191610821544" x2="353.03999999999996" y2="610.2191610821544" stroke="#ff3714" stroke-width="1.2"/>
<line x1="350.73999999999995" y1="610.2191610821544" x2="355.34" y2="610.2191610821544" stroke="#ff3714" stroke-width="1.3"/>
<circle cx="353.03999999999996" cy="613.2191610821544" r="2.0" fill="#ff3714"/>
<line x1="359.62" y1="609.4961528915363" x2="359.62" y2="606.4961528915363" stroke="#ff3714" stroke-width="1.2"/>
<line x1="357.32" y1="606.4961528915363" x2="361.92" y2="606.4961528915363" stroke="#ff3714" stroke-width="1.3"/>
<circle cx="359.62" cy="609.4961528915363" r="2.0" fill="#ff3714"/>
<line x1="366.2" y1="612.4745594440308" x2="366.2" y2="609.4745594440308" stroke="#ff3714" stroke-width="1.2"/>
<line x1="363.9" y1="609.4745594440308" x2="368.5" y2="609.4745594440308" stroke="#ff3714" stroke-width="1.3"/>
<circle cx="366.2" cy="612.4745594440308" r="2.0" fill="#ff3714"/>
<line x1="372.78" y1="610.24075452966" x2="372.78" y2="607.24075452966" stroke="#ff3714" stroke-width="1.2"/>
<line x1="370.47999999999996" y1="607.24075452966" x2="375.08" y2="607.24075452966" stroke="#ff3714" stroke-width="1.3"/>
<circle cx="372.78" cy="610.24075452966" r="2.0" fill="#ff3714"/>
<line x1="379.36" y1="595.1005212211467" x2="379.36" y2="592.1005212211467" stroke="#ff3714" stroke-width="1.2"/>
<line x1="377.06" y1="592.1005212211467" x2="381.66" y2="592.1005212211467" stroke="#ff3714" stroke-width="1.3"/>
<circle cx="379.36" cy="595.1005212211467" r="2.0" fill="#ff3714"/>
<line x1="385.94" y1="592.1221146686523" x2="385.94" y2="589.1221146686523" stroke="#ff3714" stroke-width="1.2"/>
<line x1="383.64" y1="589.1221146686523" x2="388.24" y2="589.1221146686523" stroke="#ff3714" stroke-width="1.3"/>
<circle cx="385.94" cy="592.1221146686523" r="2.0" fill="#ff3714"/>
<line x1="392.52" y1="592.8667163067759" x2="392.52" y2="589.8667163067759" stroke="#ff3714" stroke-width="1.2"/>
<line x1="390.21999999999997" y1="589.8667163067759" x2="394.82" y2="589.8667163067759" stroke="#ff3714" stroke-width="1.3"/>
<circle cx="392.52" cy="592.8667163067759" r="2.0" fill="#ff3714"/>
<line x1="399.09999999999997" y1="598.8235294117648" x2="399.09999999999997" y2="595.8235294117648" stroke="#ff3714" stroke-width="1.2"/>
<line x1="396.79999999999995" y1="595.8235294117648" x2="401.4" y2="595.8235294117648" stroke="#ff3714" stroke-width="1.3"/>
<circle cx="399.09999999999997" cy="598.8235294117648" r="2.0" fill="#ff3714"/>
<line x1="405.67999999999995" y1="600.8091337800943" x2="405.67999999999995" y2="597.8091337800943" stroke="#ff3714" stroke-width="1.2"/>
<line x1="403.37999999999994" y1="597.8091337800943" x2="407.97999999999996" y2="597.8091337800943" stroke="#ff3714" stroke-width="1.3"/>
<circle cx="405.67999999999995" cy="600.8091337800943" r="2.0" fill="#ff3714"/>
<line x1="412.26" y1="602.7947381484239" x2="412.26" y2="599.7947381484239" stroke="#ff3714" stroke-width="1.2"/>
<line x1="409.96" y1="599.7947381484239" x2="414.56" y2="599.7947381484239" stroke="#ff3714" stroke-width="1.3"/>
<circle cx="412.26" cy="602.7947381484239" r="2.0" fill="#ff3714"/>
<line x1="418.84" y1="599.5681310498883" x2="418.84" y2="596.5681310498883" stroke="#ff3714" stroke-width="1.2"/>
<line x1="416.53999999999996" y1="596.5681310498883" x2="421.14" y2="596.5681310498883" stroke="#ff3714" stroke-width="1.3"/>
<circle cx="418.84" cy="599.5681310498883" r="2.0" fill="#ff3714"/>
<line x1="425.41999999999996" y1="602.7947381484239" x2="425.41999999999996" y2="599.7947381484239" stroke="#ff3714" stroke-width="1.2"/>
<line x1="423.11999999999995" y1="599.7947381484239" x2="427.71999999999997" y2="599.7947381484239" stroke="#ff3714" stroke-width="1.3"/>
<circle cx="425.41999999999996" cy="602.7947381484239" r="2.0" fill="#ff3714"/>
<line x1="432.0" y1="604.0357408786299" x2="432.0" y2="601.0357408786299" stroke="#ff3714" stroke-width="1.2"/>
<line x1="429.7" y1="601.0357408786299" x2="434.3" y2="601.0357408786299" stroke="#ff3714" stroke-width="1.3"/>
<circle cx="432.0" cy="604.0357408786299" r="2.0" fill="#ff3714"/>
<line x1="438.58" y1="603.7875403325887" x2="438.58" y2="600.7875403325887" stroke="#ff3714" stroke-width="1.2"/>
<line x1="436.28" y1="600.7875403325887" x2="440.88" y2="600.7875403325887" stroke="#ff3714" stroke-width="1.3"/>
<circle cx="438.58" cy="603.7875403325887" r="2.0" fill="#ff3714"/>
<line x1="445.15999999999997" y1="599.0717299578059" x2="445.15999999999997" y2="596.0717299578059" stroke="#ff3714" stroke-width="1.2"/>
<line x1="442.85999999999996" y1="596.0717299578059" x2="447.46" y2="596.0717299578059" stroke="#ff3714" stroke-width="1.3"/>
<circle cx="445.15999999999997" cy="599.0717299578059" r="2.0" fill="#ff3714"/>
<line x1="451.74" y1="599.0717299578059" x2="451.74" y2="596.0717299578059" stroke="#ff3714" stroke-width="1.2"/>
<line x1="449.44" y1="596.0717299578059" x2="454.04" y2="596.0717299578059" stroke="#ff3714" stroke-width="1.3"/>
<circle cx="451.74" cy="599.0717299578059" r="2.0" fill="#ff3714"/>
<polyline points="300.40,620.17 306.98,623.89 313.56,623.15 320.14,611.98 326.72,619.42 333.30,621.16 339.88,621.41 346.46,619.92 353.04,622.40 359.62,622.40 366.20,622.65 372.78,619.42 379.36,607.01 385.94,605.28 392.52,607.51 399.10,609.50 405.68,613.72 412.26,613.72 418.84,613.72 425.42,614.46 432.00,616.94 438.58,613.22 445.16,613.22 451.74,614.96" fill="none" stroke="#1337ff" stroke-width="1.3" stroke-linejoin="round"/>
<line x1="300.4" y1="620.168776371308" x2="300.4" y2="623.168776371308" stroke="#1337ff" stroke-width="1.2"/>
<line x1="298.09999999999997" y1="623.168776371308" x2="302.7" y2="623.168776371308" stroke="#1337ff" stroke-width="1.3"/>
<circle cx="300.4" cy="620.168776371308" r="2.0" fill="#1337ff"/>
<line x1="306.97999999999996" y1="623.891784561926" x2="306.97999999999996" y2="626.891784561926" stroke="#1337ff" stroke-width="1.2"/>
<line x1="304.67999999999995" y1="626.891784561926" x2="309.28" y2="626.891784561926" stroke="#1337ff" stroke-width="1.3"/>
<circle cx="306.97999999999996" cy="623.891784561926" r="2.0" fill="#1337ff"/>
<line x1="313.56" y1="623.1471829238025" x2="313.56" y2="626.1471829238025" stroke="#1337ff" stroke-width="1.2"/>
<line x1="311.26" y1="626.1471829238025" x2="315.86" y2="626.1471829238025" stroke="#1337ff" stroke-width="1.3"/>
<circle cx="313.56" cy="623.1471829238025" r="2.0" fill="#1337ff"/>
<line x1="320.14" y1="611.9781583519484" x2="320.14" y2="614.9781583519484" stroke="#1337ff" stroke-width="1.2"/>
<line x1="317.84" y1="614.9781583519484" x2="322.44" y2="614.9781583519484" stroke="#1337ff" stroke-width="1.3"/>
<circle cx="320.14" cy="611.9781583519484" r="2.0" fill="#1337ff"/>
<line x1="326.71999999999997" y1="619.4241747331844" x2="326.71999999999997" y2="622.4241747331844" stroke="#1337ff" stroke-width="1.2"/>
<line x1="324.41999999999996" y1="622.4241747331844" x2="329.02" y2="622.4241747331844" stroke="#1337ff" stroke-width="1.3"/>
<circle cx="326.71999999999997" cy="619.4241747331844" r="2.0" fill="#1337ff"/>
<line x1="333.29999999999995" y1="621.1615785554728" x2="333.29999999999995" y2="624.1615785554728" stroke="#1337ff" stroke-width="1.2"/>
<line x1="330.99999999999994" y1="624.1615785554728" x2="335.59999999999997" y2="624.1615785554728" stroke="#1337ff" stroke-width="1.3"/>
<circle cx="333.29999999999995" cy="621.1615785554728" r="2.0" fill="#1337ff"/>
<line x1="339.88" y1="621.409779101514" x2="339.88" y2="624.409779101514" stroke="#1337ff" stroke-width="1.2"/>
<line x1="337.58" y1="624.409779101514" x2="342.18" y2="624.409779101514" stroke="#1337ff" stroke-width="1.3"/>
<circle cx="339.88" cy="621.409779101514" r="2.0" fill="#1337ff"/>
<line x1="346.46" y1="619.9205758252668" x2="346.46" y2="622.9205758252668" stroke="#1337ff" stroke-width="1.2"/>
<line x1="344.15999999999997" y1="622.9205758252668" x2="348.76" y2="622.9205758252668" stroke="#1337ff" stroke-width="1.3"/>
<circle cx="346.46" cy="619.9205758252668" r="2.0" fill="#1337ff"/>
<line x1="353.03999999999996" y1="622.4025812856788" x2="353.03999999999996" y2="625.4025812856788" stroke="#1337ff" stroke-width="1.2"/>
<line x1="350.73999999999995" y1="625.4025812856788" x2="355.34" y2="625.4025812856788" stroke="#1337ff" stroke-width="1.3"/>
<circle cx="353.03999999999996" cy="622.4025812856788" r="2.0" fill="#1337ff"/>
<line x1="359.62" y1="622.4025812856788" x2="359.62" y2="625.4025812856788" stroke="#1337ff" stroke-width="1.2"/>
<line x1="357.32" y1="625.4025812856788" x2="361.92" y2="625.4025812856788" stroke="#1337ff" stroke-width="1.3"/>
<circle cx="359.62" cy="622.4025812856788" r="2.0" fill="#1337ff"/>
<line x1="366.2" y1="622.65078183172" x2="366.2" y2="625.65078183172" stroke="#1337ff" stroke-width="1.2"/>
<line x1="363.9" y1="625.65078183172" x2="368.5" y2="625.65078183172" stroke="#1337ff" stroke-width="1.3"/>
<circle cx="366.2" cy="622.65078183172" r="2.0" fill="#1337ff"/>
<line x1="372.78" y1="619.4241747331844" x2="372.78" y2="622.4241747331844" stroke="#1337ff" stroke-width="1.2"/>
<line x1="370.47999999999996" y1="622.4241747331844" x2="375.08" y2="622.4241747331844" stroke="#1337ff" stroke-width="1.3"/>
<circle cx="372.78" cy="619.4241747331844" r="2.0" fill="#1337ff"/>
<line x1="379.36" y1="607.0141474311243" x2="379.36" y2="610.0141474311243" stroke="#1337ff" stroke-width="1.2"/>
<line x1="377.06" y1="610.0141474311243" x2="381.66" y2="610.0141474311243" stroke="#1337ff" stroke-width="1.3"/>
<circle cx="379.36" cy="607.0141474311243" r="2.0" fill="#1337ff"/>
<line x1="385.94" y1="605.2767436088359" x2="385.94" y2="608.2767436088359" stroke="#1337ff" stroke-width="1.2"/>
<line x1="383.64" y1="608.2767436088359" x2="388.24" y2="608.2767436088359" stroke="#1337ff" stroke-width="1.3"/>
<circle cx="385.94" cy="605.2767436088359" r="2.0" fill="#1337ff"/>
<line x1="392.52" y1="607.5105485232068" x2="392.52" y2="610.5105485232068" stroke="#1337ff" stroke-width="1.2"/>
<line x1="390.21999999999997" y1="610.5105485232068" x2="394.82" y2="610.5105485232068" stroke="#1337ff" stroke-width="1.3"/>
<circle cx="392.52" cy="607.5105485232068" r="2.0" fill="#1337ff"/>
<line x1="399.09999999999997" y1="609.4961528915363" x2="399.09999999999997" y2="612.4961528915363" stroke="#1337ff" stroke-width="1.2"/>
<line x1="396.79999999999995" y1="612.4961528915363" x2="401.4" y2="612.4961528915363" stroke="#1337ff" stroke-width="1.3"/>
<circle cx="399.09999999999997" cy="609.4961528915363" r="2.0" fill="#1337ff"/>
<line x1="405.67999999999995" y1="613.7155621742368" x2="405.67999999999995" y2="616.7155621742368" stroke="#1337ff" stroke-width="1.2"/>
<line x1="403.37999999999994" y1="616.7155621742368" x2="407.97999999999996" y2="616.7155621742368" stroke="#1337ff" stroke-width="1.3"/>
<circle cx="405.67999999999995" cy="613.7155621742368" r="2.0" fill="#1337ff"/>
<line x1="412.26" y1="613.7155621742368" x2="412.26" y2="616.7155621742368" stroke="#1337ff" stroke-width="1.2"/>
<line x1="409.96" y1="616.7155621742368" x2="414.56" y2="616.7155621742368" stroke="#1337ff" stroke-width="1.3"/>
<circle cx="412.26" cy="613.7155621742368" r="2.0" fill="#1337ff"/>
<line x1="418.84" y1="613.7155621742368" x2="418.84" y2="616.7155621742368" stroke="#1337ff" stroke-width="1.2"/>
<line x1="416.53999999999996" y1="616.7155621742368" x2="421.14" y2="616.7155621742368" stroke="#1337ff" stroke-width="1.3"/>
<circle cx="418.84" cy="613.7155621742368" r="2.0" fill="#1337ff"/>
<line x1="425.41999999999996" y1="614.4601638123604" x2="425.41999999999996" y2="617.4601638123604" stroke="#1337ff" stroke-width="1.2"/>
<line x1="423.11999999999995" y1="617.4601638123604" x2="427.71999999999997" y2="617.4601638123604" stroke="#1337ff" stroke-width="1.3"/>
<circle cx="425.41999999999996" cy="614.4601638123604" r="2.0" fill="#1337ff"/>
<line x1="432.0" y1="616.9421692727724" x2="432.0" y2="619.9421692727724" stroke="#1337ff" stroke-width="1.2"/>
<line x1="429.7" y1="619.9421692727724" x2="434.3" y2="619.9421692727724" stroke="#1337ff" stroke-width="1.3"/>
<circle cx="432.0" cy="616.9421692727724" r="2.0" fill="#1337ff"/>
<line x1="438.58" y1="613.2191610821544" x2="438.58" y2="616.2191610821544" stroke="#1337ff" stroke-width="1.2"/>
<line x1="436.28" y1="616.2191610821544" x2="440.88" y2="616.2191610821544" stroke="#1337ff" stroke-width="1.3"/>
<circle cx="438.58" cy="613.2191610821544" r="2.0" fill="#1337ff"/>
<line x1="445.15999999999997" y1="613.2191610821544" x2="445.15999999999997" y2="616.2191610821544" stroke="#1337ff" stroke-width="1.2"/>
<line x1="442.85999999999996" y1="616.2191610821544" x2="447.46" y2="616.2191610821544" stroke="#1337ff" stroke-width="1.3"/>
<circle cx="445.15999999999997" cy="613.2191610821544" r="2.0" fill="#1337ff"/>
<line x1="451.74" y1="614.9565649044428" x2="451.74" y2="617.9565649044428" stroke="#1337ff" stroke-width="1.2"/>
<line x1="449.44" y1="617.9565649044428" x2="454.04" y2="617.9565649044428" stroke="#1337ff" stroke-width="1.3"/>
<circle cx="451.74" cy="614.9565649044428" r="2.0" fill="#1337ff"/>
<line x1="299.4" y1="583.4" x2="309.9" y2="583.4" stroke="#222" stroke-width="1.2"/>
<path d="M303.70,575.20L303.70,580.80M301.28,576.60L306.12,579.40M306.12,576.60L301.28,579.40" stroke="#111" stroke-width="1.4" stroke-linecap="butt" fill="none"/>
<line x1="339.1" y1="583.4" x2="454.3" y2="583.4" stroke="#222" stroke-width="1.2"/>
<path d="M397.20,575.20L397.20,580.80M394.78,576.60L399.62,579.40M399.62,576.60L394.78,579.40" stroke="#111" stroke-width="1.4" stroke-linecap="butt" fill="none"/>
<line x1="405.4" y1="642.5" x2="417.8" y2="642.5" stroke="#1337ff" stroke-width="1.4"/>
<circle cx="411.6" cy="642.5" r="2.0" fill="#1337ff"/>
<text x="424" y="645.8" font-size="9.2" text-anchor="start" font-weight="normal" font-style="normal" fill="#000" stroke="#000" stroke-width="0.15" >Control</text>
<line x1="405.4" y1="657.9" x2="417.8" y2="657.9" stroke="#ff3714" stroke-width="1.4"/>
<circle cx="411.6" cy="657.9" r="2.0" fill="#ff3714"/>
<text x="424" y="661.1999999999999" font-size="9.2" text-anchor="start" font-weight="normal" font-style="italic" fill="#000" stroke="#000" stroke-width="0.15" >Cideb</text>
<text transform="translate(247.5,619) rotate(-90)" font-size="10.9" text-anchor="middle" stroke="#000" stroke-width="0.15" >VCO<tspan dy="3" font-size="7.5">2</tspan></text>
<text transform="translate(264,619) rotate(-90)" font-size="10.9" text-anchor="middle" stroke="#000" stroke-width="0.15" ><tspan font-size="11.4" letter-spacing="0.2">(ml LBM<tspan dy="-3.8" font-size="7.8">-1</tspan><tspan dy="3.8"> h</tspan><tspan dy="-3.8" font-size="7.8">-1</tspan><tspan dy="3.8">)</tspan></tspan></text>
<text x="474.5" y="548" font-size="18.5" text-anchor="start" font-weight="bold" font-style="normal" fill="#000" stroke="#000" stroke-width="0" >m</text>
<rect x="529.2" y="549.9" width="77.39999999999998" height="13.899999999999977" fill="#fff" stroke="#888888" stroke-width="1.2"/>
<rect x="607.1" y="549.4" width="72.89999999999998" height="14.899999999999977" fill="#7a7a7a"/>
<text x="567.9000000000001" y="560.7499999999999" font-size="10.6" text-anchor="middle" font-weight="normal" font-style="normal" fill="#939393" stroke="#939393" stroke-width="0.15" >Light cycle</text>
<text x="643.55" y="560.7499999999999" font-size="10.6" text-anchor="middle" font-weight="normal" font-style="normal" fill="#fff" stroke="#fff" stroke-width="0.15" >Dark cycle</text>
<line x1="526.1" y1="566.5" x2="526.1" y2="676" stroke="#262626" stroke-width="1.4"/>
<line x1="522.9" y1="567.2" x2="526.1" y2="567.2" stroke="#262626" stroke-width="1.4"/>
<text x="521.4" y="571.6" font-size="10.5" text-anchor="end" font-weight="normal" font-style="normal" fill="#000" stroke="#000" stroke-width="0.15" >1.5</text>
<line x1="522.9" y1="603.5" x2="526.1" y2="603.5" stroke="#262626" stroke-width="1.4"/>
<text x="521.4" y="607.9" font-size="10.5" text-anchor="end" font-weight="normal" font-style="normal" fill="#000" stroke="#000" stroke-width="0.15" >1.0</text>
<line x1="522.9" y1="639.8" x2="526.1" y2="639.8" stroke="#262626" stroke-width="1.4"/>
<text x="521.4" y="644.1999999999999" font-size="10.5" text-anchor="end" font-weight="normal" font-style="normal" fill="#000" stroke="#000" stroke-width="0.15" >0.5</text>
<line x1="522.9" y1="676" x2="526.1" y2="676" stroke="#262626" stroke-width="1.4"/>
<text x="521.4" y="680.4" font-size="10.5" text-anchor="end" font-weight="normal" font-style="normal" fill="#000" stroke="#000" stroke-width="0.15" >0.0</text>
<line x1="525.4" y1="676" x2="681.5" y2="676" stroke="#262626" stroke-width="1.4"/>
<line x1="529.4" y1="676" x2="529.4" y2="679" stroke="#262626" stroke-width="1.3"/>
<text transform="translate(531.6999999999999,689.2) rotate(-45)" font-size="10.3" text-anchor="end" stroke="#000" stroke-width="0.15">07:00</text>
<line x1="549.11" y1="676" x2="549.11" y2="679" stroke="#262626" stroke-width="1.3"/>
<text transform="translate(551.41,689.2) rotate(-45)" font-size="10.3" text-anchor="end" stroke="#000" stroke-width="0.15">10:00</text>
<line x1="568.8199999999999" y1="676" x2="568.8199999999999" y2="679" stroke="#262626" stroke-width="1.3"/>
<text transform="translate(571.1199999999999,689.2) rotate(-45)" font-size="10.3" text-anchor="end" stroke="#000" stroke-width="0.15">13:00</text>
<line x1="588.53" y1="676" x2="588.53" y2="679" stroke="#262626" stroke-width="1.3"/>
<text transform="translate(590.8299999999999,689.2) rotate(-45)" font-size="10.3" text-anchor="end" stroke="#000" stroke-width="0.15">16:00</text>
<line x1="608.24" y1="676" x2="608.24" y2="679" stroke="#262626" stroke-width="1.3"/>
<text transform="translate(610.54,689.2) rotate(-45)" font-size="10.3" text-anchor="end" stroke="#000" stroke-width="0.15">19:00</text>
<line x1="627.95" y1="676" x2="627.95" y2="679" stroke="#262626" stroke-width="1.3"/>
<text transform="translate(630.25,689.2) rotate(-45)" font-size="10.3" text-anchor="end" stroke="#000" stroke-width="0.15">22:00</text>
<line x1="647.66" y1="676" x2="647.66" y2="679" stroke="#262626" stroke-width="1.3"/>
<text transform="translate(649.9599999999999,689.2) rotate(-45)" font-size="10.3" text-anchor="end" stroke="#000" stroke-width="0.15">01:00</text>
<line x1="667.37" y1="676" x2="667.37" y2="679" stroke="#262626" stroke-width="1.3"/>
<text transform="translate(669.67,689.2) rotate(-45)" font-size="10.3" text-anchor="end" stroke="#000" stroke-width="0.15">04:00</text>
<polyline points="529.40,617.44 535.97,616.20 542.54,617.69 549.11,619.92 555.68,618.68 562.25,618.93 568.82,617.44 575.39,615.70 581.96,616.20 588.53,614.96 595.10,616.94 601.67,616.45 608.24,618.93 614.81,620.67 621.38,616.94 627.95,614.96 634.52,613.72 641.09,614.46 647.66,615.20 654.23,614.46 660.80,614.96 667.37,613.96 673.94,614.96 680.51,616.45" fill="none" stroke="#ff3714" stroke-width="1.3" stroke-linejoin="round"/>
<circle cx="529.4" cy="617.4385703648547" r="2.0" fill="#ff3714"/>
<circle cx="535.97" cy="616.1975676346487" r="2.0" fill="#ff3714"/>
<circle cx="542.54" cy="617.686770910896" r="2.0" fill="#ff3714"/>
<circle cx="549.11" cy="619.9205758252668" r="2.0" fill="#ff3714"/>
<circle cx="555.68" cy="618.6795730950608" r="2.0" fill="#ff3714"/>
<circle cx="562.25" cy="618.927773641102" r="2.0" fill="#ff3714"/>
<circle cx="568.8199999999999" cy="617.4385703648547" r="2.0" fill="#ff3714"/>
<circle cx="575.39" cy="615.7011665425664" r="2.0" fill="#ff3714"/>
<circle cx="581.96" cy="616.1975676346487" r="2.0" fill="#ff3714"/>
<circle cx="588.53" cy="614.9565649044428" r="2.0" fill="#ff3714"/>
<circle cx="595.1" cy="616.9421692727724" r="2.0" fill="#ff3714"/>
<circle cx="601.67" cy="616.44576818069" r="2.0" fill="#ff3714"/>
<circle cx="608.24" cy="618.927773641102" r="2.0" fill="#ff3714"/>
<line x1="614.81" y1="620.6651774633904" x2="614.81" y2="623.1651774633904" stroke="#ff3714" stroke-width="1.2"/>
<line x1="612.51" y1="623.1651774633904" x2="617.1099999999999" y2="623.1651774633904" stroke="#ff3714" stroke-width="1.3"/>
<circle cx="614.81" cy="620.6651774633904" r="2.0" fill="#ff3714"/>
<circle cx="621.38" cy="616.9421692727724" r="2.0" fill="#ff3714"/>
<circle cx="627.95" cy="614.9565649044428" r="2.0" fill="#ff3714"/>
<circle cx="634.52" cy="613.7155621742368" r="2.0" fill="#ff3714"/>
<circle cx="641.0899999999999" cy="614.4601638123604" r="2.0" fill="#ff3714"/>
<circle cx="647.66" cy="615.204765450484" r="2.0" fill="#ff3714"/>
<circle cx="654.23" cy="614.4601638123604" r="2.0" fill="#ff3714"/>
<circle cx="660.8" cy="614.9565649044428" r="2.0" fill="#ff3714"/>
<circle cx="667.37" cy="613.9637627202779" r="2.0" fill="#ff3714"/>
<circle cx="673.94" cy="614.9565649044428" r="2.0" fill="#ff3714"/>
<circle cx="680.51" cy="616.44576818069" r="2.0" fill="#ff3714"/>
<polyline points="529.40,609.50 535.97,610.74 542.54,609.50 549.11,617.69 555.68,613.72 562.25,611.98 568.82,610.24 575.39,609.99 581.96,608.26 588.53,609.00 595.10,609.50 601.67,609.50 608.24,609.50 614.81,612.47 621.38,611.98 627.95,610.24 634.52,609.99 641.09,608.75 647.66,608.75 654.23,609.99 660.80,610.24 667.37,609.50 673.94,610.74 680.51,610.24" fill="none" stroke="#1337ff" stroke-width="1.3" stroke-linejoin="round"/>
<circle cx="529.4" cy="609.4961528915363" r="2.0" fill="#1337ff"/>
<circle cx="535.97" cy="610.7371556217424" r="2.0" fill="#1337ff"/>
<circle cx="542.54" cy="609.4961528915363" r="2.0" fill="#1337ff"/>
<circle cx="549.11" cy="617.686770910896" r="2.0" fill="#1337ff"/>
<circle cx="555.68" cy="613.7155621742368" r="2.0" fill="#1337ff"/>
<circle cx="562.25" cy="611.9781583519484" r="2.0" fill="#1337ff"/>
<circle cx="568.8199999999999" cy="610.24075452966" r="2.0" fill="#1337ff"/>
<circle cx="575.39" cy="609.9925539836188" r="2.0" fill="#1337ff"/>
<circle cx="581.96" cy="608.2551501613303" r="2.0" fill="#1337ff"/>
<circle cx="588.53" cy="608.999751799454" r="2.0" fill="#1337ff"/>
<circle cx="595.1" cy="609.4961528915363" r="2.0" fill="#1337ff"/>
<circle cx="601.67" cy="609.4961528915363" r="2.0" fill="#1337ff"/>
<circle cx="608.24" cy="609.4961528915363" r="2.0" fill="#1337ff"/>
<circle cx="614.81" cy="612.4745594440308" r="2.0" fill="#1337ff"/>
<circle cx="621.38" cy="611.9781583519484" r="2.0" fill="#1337ff"/>
<circle cx="627.95" cy="610.24075452966" r="2.0" fill="#1337ff"/>
<circle cx="634.52" cy="609.9925539836188" r="2.0" fill="#1337ff"/>
<circle cx="641.0899999999999" cy="608.7515512534128" r="2.0" fill="#1337ff"/>
<circle cx="647.66" cy="608.7515512534128" r="2.0" fill="#1337ff"/>
<circle cx="654.23" cy="609.9925539836188" r="2.0" fill="#1337ff"/>
<circle cx="660.8" cy="610.24075452966" r="2.0" fill="#1337ff"/>
<circle cx="667.37" cy="609.4961528915363" r="2.0" fill="#1337ff"/>
<circle cx="673.94" cy="610.7371556217424" r="2.0" fill="#1337ff"/>
<circle cx="680.51" cy="610.24075452966" r="2.0" fill="#1337ff"/>
<line x1="527.4" y1="598.3" x2="547.3" y2="598.3" stroke="#222" stroke-width="1.2"/>
<path d="M530.20,590.10L530.20,595.70M527.78,591.50L532.62,594.30M532.62,591.50L527.78,594.30" stroke="#111" stroke-width="1.4" stroke-linecap="butt" fill="none"/>
<path d="M537.20,590.10L537.20,595.70M534.78,591.50L539.62,594.30M539.62,591.50L534.78,594.30" stroke="#111" stroke-width="1.4" stroke-linecap="butt" fill="none"/>
<path d="M544.20,590.10L544.20,595.70M541.78,591.50L546.62,594.30M546.62,591.50L541.78,594.30" stroke="#111" stroke-width="1.4" stroke-linecap="butt" fill="none"/>
<line x1="552.2" y1="598.3" x2="610" y2="598.3" stroke="#222" stroke-width="1.2"/>
<path d="M574.00,590.10L574.00,595.70M571.58,591.50L576.42,594.30M576.42,591.50L571.58,594.30" stroke="#111" stroke-width="1.4" stroke-linecap="butt" fill="none"/>
<path d="M581.00,590.10L581.00,595.70M578.58,591.50L583.42,594.30M583.42,591.50L578.58,594.30" stroke="#111" stroke-width="1.4" stroke-linecap="butt" fill="none"/>
<path d="M588.00,590.10L588.00,595.70M585.58,591.50L590.42,594.30M590.42,591.50L585.58,594.30" stroke="#111" stroke-width="1.4" stroke-linecap="butt" fill="none"/>
<line x1="613" y1="598.3" x2="680.8" y2="598.3" stroke="#222" stroke-width="1.2"/>
<path d="M643.50,590.10L643.50,595.70M641.08,591.50L645.92,594.30M645.92,591.50L641.08,594.30" stroke="#111" stroke-width="1.4" stroke-linecap="butt" fill="none"/>
<path d="M650.50,590.10L650.50,595.70M648.08,591.50L652.92,594.30M652.92,591.50L648.08,594.30" stroke="#111" stroke-width="1.4" stroke-linecap="butt" fill="none"/>
<line x1="634" y1="643.7" x2="647.8" y2="643.7" stroke="#1337ff" stroke-width="1.4"/>
<circle cx="640.9" cy="643.7" r="2.0" fill="#1337ff"/>
<text x="653.5" y="647.0" font-size="9.2" text-anchor="start" font-weight="normal" font-style="normal" fill="#000" stroke="#000" stroke-width="0.15" >Control</text>
<line x1="634" y1="659.1" x2="647.8" y2="659.1" stroke="#ff3714" stroke-width="1.4"/>
<circle cx="640.9" cy="659.1" r="2.0" fill="#ff3714"/>
<text x="653.5" y="662.4" font-size="9.2" text-anchor="start" font-weight="normal" font-style="italic" fill="#000" stroke="#000" stroke-width="0.15" >Cideb</text>
<text transform="translate(485.5,620) rotate(-90)" font-size="10.9" text-anchor="middle" stroke="#000" stroke-width="0.15" >RER</text>
<text transform="translate(500,620) rotate(-90)" font-size="10.9" text-anchor="middle" stroke="#000" stroke-width="0.15" ><tspan font-size="11.4" letter-spacing="0.2">(VCO<tspan dy="3" font-size="8">2</tspan><tspan dy="-3">/VO</tspan><tspan dy="3" font-size="8">2</tspan><tspan dy="-3">)</tspan></tspan></text>
</svg></body></html>
